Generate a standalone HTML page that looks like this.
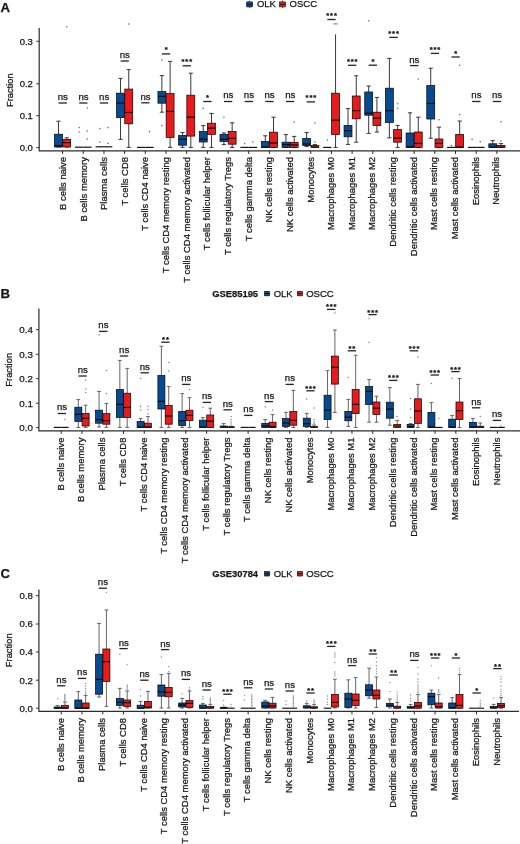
<!DOCTYPE html>
<html lang="en"><head><meta charset="utf-8"><title>Immune cell fractions: OLK vs OSCC</title>
<style>html,body{margin:0;padding:0;background:#fff}svg{display:block}text{font-family:"Liberation Sans", Arial, Helvetica, sans-serif;fill:#161616;stroke:#161616;stroke-width:0.25px}</style></head><body>
<svg width="520" height="844" viewBox="0 0 520 844">
<rect width="520" height="844" fill="#fff"/>
<g id="panelA">
<path d="M39.2 28V150.9H520" stroke="#2e2e2e" stroke-width="1.2" fill="none"/>
<line x1="36.2" y1="147.6" x2="39.2" y2="147.6" stroke="#2e2e2e" stroke-width="0.95"/>
<text x="32.9" y="150.9" text-anchor="end" font-size="9.5">0.0</text>
<line x1="36.2" y1="115.7" x2="39.2" y2="115.7" stroke="#2e2e2e" stroke-width="0.95"/>
<text x="32.9" y="119" text-anchor="end" font-size="9.5">0.1</text>
<line x1="36.2" y1="83.8" x2="39.2" y2="83.8" stroke="#2e2e2e" stroke-width="0.95"/>
<text x="32.9" y="87.1" text-anchor="end" font-size="9.5">0.2</text>
<line x1="36.2" y1="41.3" x2="39.2" y2="41.3" stroke="#2e2e2e" stroke-width="0.95"/>
<text x="32.9" y="44.6" text-anchor="end" font-size="9.5">0.3</text>
<text transform="translate(12.8 90.2) rotate(-90)" text-anchor="middle" font-size="9.35">Fraction</text>
<text x="0.6" y="12.4" font-size="13.2" font-weight="bold">A</text>
<line x1="62.6" y1="150.9" x2="62.6" y2="153.9" stroke="#262626" stroke-width="1"/>
<text transform="translate(65.9 157) rotate(-90)" text-anchor="end" font-size="9.45">B cells naive</text>
<path d="M58.48 121.2V134.2M58.48 147V147M56.38 121.2H60.58M56.38 147H60.58" stroke="#222" stroke-width="0.9" fill="none"/>
<rect x="54.55" y="134.2" width="7.9" height="12.8" fill="#064b92" stroke="#0a0a0a" stroke-width="0.75"/>
<line x1="54.55" y1="145.7" x2="62.45" y2="145.7" stroke="#0a0a0a" stroke-width="1.25"/>
<path d="M66.72 137.8V139.4M66.72 147V147M64.62 137.8H68.82M64.62 147H68.82" stroke="#222" stroke-width="0.9" fill="none"/>
<rect x="62.75" y="139.4" width="7.9" height="7.6" fill="#ea1a1a" stroke="#0a0a0a" stroke-width="0.75"/>
<line x1="62.75" y1="142.6" x2="70.65" y2="142.6" stroke="#0a0a0a" stroke-width="1.25"/>
<circle cx="66.72" cy="26.8" r="0.8" fill="#6e6e6e"/>
<line x1="58.5" y1="103" x2="66.8" y2="103" stroke="#2a2222" stroke-width="1.3"/>
<text x="62.8" y="99.9" text-anchor="middle" font-size="9.6">ns</text>
<line x1="83.28" y1="150.9" x2="83.28" y2="153.9" stroke="#262626" stroke-width="1"/>
<text transform="translate(86.53 157) rotate(-90)" text-anchor="end" font-size="9.45">B cells memory</text>
<line x1="74.93" y1="147.2" x2="83.28" y2="147.2" stroke="#161616" stroke-width="1.2"/>
<circle cx="79.16" cy="127.6" r="0.8" fill="#6e6e6e"/>
<circle cx="79.16" cy="132" r="0.8" fill="#6e6e6e"/>
<line x1="83.28" y1="147.2" x2="91.63" y2="147.2" stroke="#161616" stroke-width="1.2"/>
<circle cx="87.41" cy="108" r="0.8" fill="#6e6e6e"/>
<circle cx="87.41" cy="131" r="0.8" fill="#6e6e6e"/>
<circle cx="87.41" cy="139" r="0.8" fill="#6e6e6e"/>
<line x1="79.18" y1="103" x2="87.48" y2="103" stroke="#2a2222" stroke-width="1.3"/>
<text x="83.48" y="99.9" text-anchor="middle" font-size="9.6">ns</text>
<line x1="103.96" y1="150.9" x2="103.96" y2="153.9" stroke="#262626" stroke-width="1"/>
<text transform="translate(107.17 157) rotate(-90)" text-anchor="end" font-size="9.45">Plasma cells</text>
<line x1="95.61" y1="146.8" x2="103.96" y2="146.8" stroke="#161616" stroke-width="1.2"/>
<circle cx="99.84" cy="128.6" r="0.8" fill="#6e6e6e"/>
<circle cx="99.84" cy="142" r="0.8" fill="#6e6e6e"/>
<line x1="103.96" y1="146.8" x2="112.31" y2="146.8" stroke="#161616" stroke-width="1.2"/>
<circle cx="108.09" cy="127.6" r="0.8" fill="#6e6e6e"/>
<circle cx="108.09" cy="143.4" r="0.8" fill="#6e6e6e"/>
<line x1="99.86" y1="103" x2="108.16" y2="103" stroke="#2a2222" stroke-width="1.3"/>
<text x="104.16" y="99.9" text-anchor="middle" font-size="9.6">ns</text>
<line x1="124.64" y1="150.9" x2="124.64" y2="153.9" stroke="#262626" stroke-width="1"/>
<text transform="translate(127.8 157) rotate(-90)" text-anchor="end" font-size="9.45">T cells CD8</text>
<path d="M120.52 78.4V93.2M120.52 117.6V139.4M118.42 78.4H122.61M118.42 139.4H122.61" stroke="#222" stroke-width="0.9" fill="none"/>
<rect x="116.59" y="93.2" width="7.9" height="24.4" fill="#064b92" stroke="#0a0a0a" stroke-width="0.75"/>
<line x1="116.59" y1="103" x2="124.49" y2="103" stroke="#0a0a0a" stroke-width="1.25"/>
<path d="M128.76 69.6V89.1M128.76 123.8V147.4M126.66 69.6H130.86M126.66 147.4H130.86" stroke="#222" stroke-width="0.9" fill="none"/>
<rect x="124.79" y="89.1" width="7.9" height="34.7" fill="#ea1a1a" stroke="#0a0a0a" stroke-width="0.75"/>
<line x1="124.79" y1="112.5" x2="132.69" y2="112.5" stroke="#0a0a0a" stroke-width="1.25"/>
<circle cx="128.76" cy="24" r="0.8" fill="#6e6e6e"/>
<line x1="120.54" y1="61" x2="128.84" y2="61" stroke="#2a2222" stroke-width="1.3"/>
<text x="124.84" y="57.9" text-anchor="middle" font-size="9.6">ns</text>
<line x1="145.32" y1="150.9" x2="145.32" y2="153.9" stroke="#262626" stroke-width="1"/>
<text transform="translate(148.44 157) rotate(-90)" text-anchor="end" font-size="9.45">T cells CD4 naive</text>
<line x1="136.97" y1="147.4" x2="145.32" y2="147.4" stroke="#161616" stroke-width="1.2"/>
<line x1="145.32" y1="147.4" x2="153.67" y2="147.4" stroke="#161616" stroke-width="1.2"/>
<circle cx="149.44" cy="131.6" r="0.8" fill="#6e6e6e"/>
<line x1="141.22" y1="102.8" x2="149.52" y2="102.8" stroke="#2a2222" stroke-width="1.3"/>
<text x="145.52" y="99.7" text-anchor="middle" font-size="9.6">ns</text>
<line x1="166" y1="150.9" x2="166" y2="153.9" stroke="#262626" stroke-width="1"/>
<text transform="translate(169.08 157) rotate(-90)" text-anchor="end" font-size="9.45">T cells CD4 memory resting</text>
<path d="M161.88 75.6V91.6M161.88 103.2V112.2M159.78 75.6H163.97M159.78 112.2H163.97" stroke="#222" stroke-width="0.9" fill="none"/>
<rect x="157.95" y="91.6" width="7.9" height="11.6" fill="#064b92" stroke="#0a0a0a" stroke-width="0.75"/>
<line x1="157.95" y1="96.4" x2="165.85" y2="96.4" stroke="#0a0a0a" stroke-width="1.25"/>
<circle cx="161.88" cy="60" r="0.8" fill="#6e6e6e"/>
<circle cx="161.88" cy="125.6" r="0.8" fill="#6e6e6e"/>
<path d="M170.12 61.4V93.6M170.12 137.4V147.4M168.03 61.4H172.22M168.03 147.4H172.22" stroke="#222" stroke-width="0.9" fill="none"/>
<rect x="166.15" y="93.6" width="7.9" height="43.8" fill="#ea1a1a" stroke="#0a0a0a" stroke-width="0.75"/>
<line x1="166.15" y1="111.4" x2="174.05" y2="111.4" stroke="#0a0a0a" stroke-width="1.25"/>
<line x1="161.9" y1="53.9" x2="170.2" y2="53.9" stroke="#2a2222" stroke-width="1.3"/>
<text x="166.55" y="52.4" text-anchor="middle" font-size="7.6" font-weight="bold" letter-spacing="0.85" fill="#000" stroke="#000" stroke-width="0.3">*</text>
<line x1="186.68" y1="150.9" x2="186.68" y2="153.9" stroke="#262626" stroke-width="1"/>
<text transform="translate(189.71 157) rotate(-90)" text-anchor="end" font-size="9.45">T cells CD4 memory activated</text>
<path d="M182.56 132.6V135.4M182.56 145.2V147.4M180.46 132.6H184.66M180.46 147.4H184.66" stroke="#222" stroke-width="0.9" fill="none"/>
<rect x="178.63" y="135.4" width="7.9" height="9.8" fill="#064b92" stroke="#0a0a0a" stroke-width="0.75"/>
<line x1="178.63" y1="139.4" x2="186.53" y2="139.4" stroke="#0a0a0a" stroke-width="1.25"/>
<path d="M190.81 73.2V95.2M190.81 136.1V147.4M188.71 73.2H192.91M188.71 147.4H192.91" stroke="#222" stroke-width="0.9" fill="none"/>
<rect x="186.83" y="95.2" width="7.9" height="40.9" fill="#ea1a1a" stroke="#0a0a0a" stroke-width="0.75"/>
<line x1="186.83" y1="117.2" x2="194.73" y2="117.2" stroke="#0a0a0a" stroke-width="1.25"/>
<line x1="182.58" y1="65.8" x2="190.88" y2="65.8" stroke="#2a2222" stroke-width="1.3"/>
<text x="187.23" y="64.3" text-anchor="middle" font-size="7.6" font-weight="bold" letter-spacing="0.85" fill="#000" stroke="#000" stroke-width="0.3">***</text>
<line x1="207.36" y1="150.9" x2="207.36" y2="153.9" stroke="#262626" stroke-width="1"/>
<text transform="translate(210.34 157) rotate(-90)" text-anchor="end" font-size="9.45">T cells follicular helper</text>
<path d="M203.23 125.6V131.4M203.23 142V147.4M201.13 125.6H205.33M201.13 147.4H205.33" stroke="#222" stroke-width="0.9" fill="none"/>
<rect x="199.31" y="131.4" width="7.9" height="10.6" fill="#064b92" stroke="#0a0a0a" stroke-width="0.75"/>
<line x1="199.31" y1="139.2" x2="207.21" y2="139.2" stroke="#0a0a0a" stroke-width="1.25"/>
<circle cx="203.23" cy="108.4" r="0.8" fill="#6e6e6e"/>
<path d="M211.48 113.4V123.2M211.48 134.4V147.4M209.38 113.4H213.58M209.38 147.4H213.58" stroke="#222" stroke-width="0.9" fill="none"/>
<rect x="207.51" y="123.2" width="7.9" height="11.2" fill="#ea1a1a" stroke="#0a0a0a" stroke-width="0.75"/>
<line x1="207.51" y1="128.2" x2="215.41" y2="128.2" stroke="#0a0a0a" stroke-width="1.25"/>
<line x1="203.26" y1="101.5" x2="211.56" y2="101.5" stroke="#2a2222" stroke-width="1.3"/>
<text x="207.91" y="100" text-anchor="middle" font-size="7.6" font-weight="bold" letter-spacing="0.85" fill="#000" stroke="#000" stroke-width="0.3">*</text>
<line x1="228.04" y1="150.9" x2="228.04" y2="153.9" stroke="#262626" stroke-width="1"/>
<text transform="translate(230.98 157) rotate(-90)" text-anchor="end" font-size="9.45">T cells regulatory Tregs</text>
<path d="M223.91 133V134.4M223.91 141.4V144.6M221.81 133H226.01M221.81 144.6H226.01" stroke="#222" stroke-width="0.9" fill="none"/>
<rect x="219.99" y="134.4" width="7.9" height="7" fill="#064b92" stroke="#0a0a0a" stroke-width="0.75"/>
<line x1="219.99" y1="139.4" x2="227.89" y2="139.4" stroke="#0a0a0a" stroke-width="1.25"/>
<circle cx="223.91" cy="117.2" r="0.8" fill="#6e6e6e"/>
<path d="M232.16 122.8V131.4M232.16 144.2V147.4M230.06 122.8H234.26M230.06 147.4H234.26" stroke="#222" stroke-width="0.9" fill="none"/>
<rect x="228.19" y="131.4" width="7.9" height="12.8" fill="#ea1a1a" stroke="#0a0a0a" stroke-width="0.75"/>
<line x1="228.19" y1="138.4" x2="236.09" y2="138.4" stroke="#0a0a0a" stroke-width="1.25"/>
<line x1="223.94" y1="101.5" x2="232.24" y2="101.5" stroke="#2a2222" stroke-width="1.3"/>
<text x="228.24" y="98.4" text-anchor="middle" font-size="9.6">ns</text>
<line x1="248.72" y1="150.9" x2="248.72" y2="153.9" stroke="#262626" stroke-width="1"/>
<text transform="translate(251.62 157) rotate(-90)" text-anchor="end" font-size="9.45">T cells gamma delta</text>
<line x1="240.37" y1="147.4" x2="248.72" y2="147.4" stroke="#161616" stroke-width="1.2"/>
<circle cx="244.59" cy="143.6" r="0.8" fill="#6e6e6e"/>
<line x1="248.72" y1="147.4" x2="257.07" y2="147.4" stroke="#161616" stroke-width="1.2"/>
<circle cx="252.84" cy="142" r="0.8" fill="#6e6e6e"/>
<line x1="244.62" y1="101.5" x2="252.92" y2="101.5" stroke="#2a2222" stroke-width="1.3"/>
<text x="248.92" y="98.4" text-anchor="middle" font-size="9.6">ns</text>
<line x1="269.4" y1="150.9" x2="269.4" y2="153.9" stroke="#262626" stroke-width="1"/>
<text transform="translate(272.25 157) rotate(-90)" text-anchor="end" font-size="9.45">NK cells resting</text>
<path d="M265.28 135.8V141.4M265.28 147.4V147.4M263.18 135.8H267.38M263.18 147.4H267.38" stroke="#222" stroke-width="0.9" fill="none"/>
<rect x="261.35" y="141.4" width="7.9" height="6" fill="#064b92" stroke="#0a0a0a" stroke-width="0.75"/>
<line x1="261.35" y1="147" x2="269.25" y2="147" stroke="#0a0a0a" stroke-width="1.25"/>
<path d="M273.53 117.2V132.2M273.53 147.4V147.4M271.43 117.2H275.63M271.43 147.4H275.63" stroke="#222" stroke-width="0.9" fill="none"/>
<rect x="269.55" y="132.2" width="7.9" height="15.2" fill="#ea1a1a" stroke="#0a0a0a" stroke-width="0.75"/>
<line x1="269.55" y1="143" x2="277.45" y2="143" stroke="#0a0a0a" stroke-width="1.25"/>
<line x1="265.3" y1="101.5" x2="273.6" y2="101.5" stroke="#2a2222" stroke-width="1.3"/>
<text x="269.6" y="98.4" text-anchor="middle" font-size="9.6">ns</text>
<line x1="290.08" y1="150.9" x2="290.08" y2="153.9" stroke="#262626" stroke-width="1"/>
<text transform="translate(292.88 157) rotate(-90)" text-anchor="end" font-size="9.45">NK cells activated</text>
<path d="M285.95 134.6V142.2M285.95 147.4V147.4M283.85 134.6H288.06M283.85 147.4H288.06" stroke="#222" stroke-width="0.9" fill="none"/>
<rect x="282.03" y="142.2" width="7.9" height="5.2" fill="#064b92" stroke="#0a0a0a" stroke-width="0.75"/>
<line x1="282.03" y1="144.6" x2="289.93" y2="144.6" stroke="#0a0a0a" stroke-width="1.25"/>
<path d="M294.2 136.4V142.4M294.2 147.4V147.4M292.1 136.4H296.31M292.1 147.4H296.31" stroke="#222" stroke-width="0.9" fill="none"/>
<rect x="290.23" y="142.4" width="7.9" height="5" fill="#ea1a1a" stroke="#0a0a0a" stroke-width="0.75"/>
<line x1="290.23" y1="145" x2="298.13" y2="145" stroke="#0a0a0a" stroke-width="1.25"/>
<circle cx="294.2" cy="122" r="0.8" fill="#6e6e6e"/>
<line x1="285.98" y1="101.5" x2="294.28" y2="101.5" stroke="#2a2222" stroke-width="1.3"/>
<text x="290.28" y="98.4" text-anchor="middle" font-size="9.6">ns</text>
<line x1="310.76" y1="150.9" x2="310.76" y2="153.9" stroke="#262626" stroke-width="1"/>
<text transform="translate(313.52 157) rotate(-90)" text-anchor="end" font-size="9.45">Monocytes</text>
<path d="M306.63 132.6V138.6M306.63 145.6V146.6M304.53 132.6H308.74M304.53 146.6H308.74" stroke="#222" stroke-width="0.9" fill="none"/>
<rect x="302.71" y="138.6" width="7.9" height="7" fill="#064b92" stroke="#0a0a0a" stroke-width="0.75"/>
<line x1="302.71" y1="144" x2="310.61" y2="144" stroke="#0a0a0a" stroke-width="1.25"/>
<path d="M314.88 144.6V145.6M314.88 147.4V147.4M312.78 144.6H316.99M312.78 147.4H316.99" stroke="#222" stroke-width="0.9" fill="none"/>
<rect x="310.91" y="145.6" width="7.9" height="1.8" fill="#ea1a1a" stroke="#0a0a0a" stroke-width="0.75"/>
<line x1="310.91" y1="146.4" x2="318.81" y2="146.4" stroke="#0a0a0a" stroke-width="0.54"/>
<circle cx="314.88" cy="123" r="0.8" fill="#6e6e6e"/>
<circle cx="314.88" cy="142" r="0.8" fill="#6e6e6e"/>
<line x1="306.66" y1="101.9" x2="314.96" y2="101.9" stroke="#2a2222" stroke-width="1.3"/>
<text x="311.31" y="100.4" text-anchor="middle" font-size="7.6" font-weight="bold" letter-spacing="0.85" fill="#000" stroke="#000" stroke-width="0.3">***</text>
<line x1="331.44" y1="150.9" x2="331.44" y2="153.9" stroke="#262626" stroke-width="1"/>
<text transform="translate(334.16 157) rotate(-90)" text-anchor="end" font-size="9.45">Macrophages M0</text>
<line x1="323.09" y1="147.4" x2="331.44" y2="147.4" stroke="#161616" stroke-width="1.2"/>
<circle cx="327.31" cy="140" r="0.8" fill="#6e6e6e"/>
<path d="M335.56 34.4V93.2M335.56 134.6V147.4M335.56 34.4H335.56M333.46 147.4H337.67" stroke="#222" stroke-width="0.9" fill="none"/>
<line x1="333.46" y1="23.9" x2="337.67" y2="23.9" stroke="#6a6a6a" stroke-width="1"/>
<rect x="331.59" y="93.2" width="7.9" height="41.4" fill="#ea1a1a" stroke="#0a0a0a" stroke-width="0.75"/>
<line x1="331.59" y1="120.2" x2="339.49" y2="120.2" stroke="#0a0a0a" stroke-width="1.25"/>
<line x1="327.34" y1="19.5" x2="335.64" y2="19.5" stroke="#2a2222" stroke-width="1.3"/>
<text x="331.99" y="18" text-anchor="middle" font-size="7.6" font-weight="bold" letter-spacing="0.85" fill="#000" stroke="#000" stroke-width="0.3">***</text>
<line x1="352.12" y1="150.9" x2="352.12" y2="153.9" stroke="#262626" stroke-width="1"/>
<text transform="translate(354.79 157) rotate(-90)" text-anchor="end" font-size="9.45">Macrophages M1</text>
<path d="M348 108.6V125.4M348 136.8V144.4M345.89 108.6H350.1M345.89 144.4H350.1" stroke="#222" stroke-width="0.9" fill="none"/>
<rect x="344.07" y="125.4" width="7.9" height="11.4" fill="#064b92" stroke="#0a0a0a" stroke-width="0.75"/>
<line x1="344.07" y1="130.6" x2="351.97" y2="130.6" stroke="#0a0a0a" stroke-width="1.25"/>
<path d="M356.25 75.8V96M356.25 118.8V142.2M354.14 75.8H358.35M354.14 142.2H358.35" stroke="#222" stroke-width="0.9" fill="none"/>
<rect x="352.27" y="96" width="7.9" height="22.8" fill="#ea1a1a" stroke="#0a0a0a" stroke-width="0.75"/>
<line x1="352.27" y1="110.6" x2="360.17" y2="110.6" stroke="#0a0a0a" stroke-width="1.25"/>
<line x1="348.02" y1="65.3" x2="356.32" y2="65.3" stroke="#2a2222" stroke-width="1.3"/>
<text x="352.67" y="63.8" text-anchor="middle" font-size="7.6" font-weight="bold" letter-spacing="0.85" fill="#000" stroke="#000" stroke-width="0.3">***</text>
<line x1="372.8" y1="150.9" x2="372.8" y2="153.9" stroke="#262626" stroke-width="1"/>
<text transform="translate(375.43 157) rotate(-90)" text-anchor="end" font-size="9.45">Macrophages M2</text>
<path d="M368.68 86V92M368.68 115.2V133.4M366.57 86H370.78M366.57 133.4H370.78" stroke="#222" stroke-width="0.9" fill="none"/>
<rect x="364.75" y="92" width="7.9" height="23.2" fill="#064b92" stroke="#0a0a0a" stroke-width="0.75"/>
<line x1="364.75" y1="113.2" x2="372.65" y2="113.2" stroke="#0a0a0a" stroke-width="1.25"/>
<circle cx="368.68" cy="20.8" r="0.8" fill="#6e6e6e"/>
<path d="M376.93 97.4V112.2M376.93 125.6V132M374.82 97.4H379.03M374.82 132H379.03" stroke="#222" stroke-width="0.9" fill="none"/>
<rect x="372.95" y="112.2" width="7.9" height="13.4" fill="#ea1a1a" stroke="#0a0a0a" stroke-width="0.75"/>
<line x1="372.95" y1="118.2" x2="380.85" y2="118.2" stroke="#0a0a0a" stroke-width="1.25"/>
<line x1="368.7" y1="65.2" x2="377" y2="65.2" stroke="#2a2222" stroke-width="1.3"/>
<text x="373.35" y="63.7" text-anchor="middle" font-size="7.6" font-weight="bold" letter-spacing="0.85" fill="#000" stroke="#000" stroke-width="0.3">*</text>
<line x1="393.48" y1="150.9" x2="393.48" y2="153.9" stroke="#262626" stroke-width="1"/>
<text transform="translate(396.06 157) rotate(-90)" text-anchor="end" font-size="9.45">Dendritic cells resting</text>
<path d="M389.36 58.4V88.2M389.36 122.6V137.8M387.25 58.4H391.46M387.25 137.8H391.46" stroke="#222" stroke-width="0.9" fill="none"/>
<rect x="385.43" y="88.2" width="7.9" height="34.4" fill="#064b92" stroke="#0a0a0a" stroke-width="0.75"/>
<line x1="385.43" y1="110.6" x2="393.33" y2="110.6" stroke="#0a0a0a" stroke-width="1.25"/>
<path d="M397.61 125.4V129.6M397.61 142.2V147.4M395.5 125.4H399.71M395.5 147.4H399.71" stroke="#222" stroke-width="0.9" fill="none"/>
<rect x="393.63" y="129.6" width="7.9" height="12.6" fill="#ea1a1a" stroke="#0a0a0a" stroke-width="0.75"/>
<line x1="393.63" y1="138.2" x2="401.53" y2="138.2" stroke="#0a0a0a" stroke-width="1.25"/>
<circle cx="397.61" cy="103.8" r="0.8" fill="#6e6e6e"/>
<circle cx="397.61" cy="108.2" r="0.8" fill="#6e6e6e"/>
<line x1="389.38" y1="37.4" x2="397.68" y2="37.4" stroke="#2a2222" stroke-width="1.3"/>
<text x="394.03" y="35.9" text-anchor="middle" font-size="7.6" font-weight="bold" letter-spacing="0.85" fill="#000" stroke="#000" stroke-width="0.3">***</text>
<line x1="414.16" y1="150.9" x2="414.16" y2="153.9" stroke="#262626" stroke-width="1"/>
<text transform="translate(416.7 157) rotate(-90)" text-anchor="end" font-size="9.45">Dendritic cells activated</text>
<path d="M410.04 112.8V133M410.04 147.4V147.4M407.94 112.8H412.14M407.94 147.4H412.14" stroke="#222" stroke-width="0.9" fill="none"/>
<rect x="406.11" y="133" width="7.9" height="14.4" fill="#064b92" stroke="#0a0a0a" stroke-width="0.75"/>
<line x1="406.11" y1="146.6" x2="414.01" y2="146.6" stroke="#0a0a0a" stroke-width="1.25"/>
<path d="M418.29 117.2V132M418.29 147.4V147.4M416.19 117.2H420.39M416.19 147.4H420.39" stroke="#222" stroke-width="0.9" fill="none"/>
<rect x="414.31" y="132" width="7.9" height="15.4" fill="#ea1a1a" stroke="#0a0a0a" stroke-width="0.75"/>
<line x1="414.31" y1="143.4" x2="422.21" y2="143.4" stroke="#0a0a0a" stroke-width="1.25"/>
<circle cx="418.29" cy="79" r="0.8" fill="#6e6e6e"/>
<line x1="410.06" y1="65.6" x2="418.36" y2="65.6" stroke="#2a2222" stroke-width="1.3"/>
<text x="414.36" y="62.5" text-anchor="middle" font-size="9.6">ns</text>
<line x1="434.84" y1="150.9" x2="434.84" y2="153.9" stroke="#262626" stroke-width="1"/>
<text transform="translate(437.33 157) rotate(-90)" text-anchor="end" font-size="9.45">Mast cells resting</text>
<path d="M430.72 68.2V85.6M430.72 119V138.2M428.62 68.2H432.82M428.62 138.2H432.82" stroke="#222" stroke-width="0.9" fill="none"/>
<rect x="426.79" y="85.6" width="7.9" height="33.4" fill="#064b92" stroke="#0a0a0a" stroke-width="0.75"/>
<line x1="426.79" y1="103.4" x2="434.69" y2="103.4" stroke="#0a0a0a" stroke-width="1.25"/>
<path d="M438.97 127.2V139M438.97 147.4V147.4M436.87 127.2H441.07M436.87 147.4H441.07" stroke="#222" stroke-width="0.9" fill="none"/>
<rect x="434.99" y="139" width="7.9" height="8.4" fill="#ea1a1a" stroke="#0a0a0a" stroke-width="0.75"/>
<line x1="434.99" y1="143.4" x2="442.89" y2="143.4" stroke="#0a0a0a" stroke-width="1.25"/>
<circle cx="438.97" cy="119.8" r="0.8" fill="#6e6e6e"/>
<line x1="430.74" y1="53.4" x2="439.04" y2="53.4" stroke="#2a2222" stroke-width="1.3"/>
<text x="435.39" y="51.9" text-anchor="middle" font-size="7.6" font-weight="bold" letter-spacing="0.85" fill="#000" stroke="#000" stroke-width="0.3">***</text>
<line x1="455.52" y1="150.9" x2="455.52" y2="153.9" stroke="#262626" stroke-width="1"/>
<text transform="translate(457.97 157) rotate(-90)" text-anchor="end" font-size="9.45">Mast cells activated</text>
<line x1="447.17" y1="147.4" x2="455.52" y2="147.4" stroke="#161616" stroke-width="1.2"/>
<circle cx="451.4" cy="145.6" r="0.8" fill="#6e6e6e"/>
<path d="M459.65 121V134.4M459.65 147.4V147.4M457.55 121H461.75M457.55 147.4H461.75" stroke="#222" stroke-width="0.9" fill="none"/>
<rect x="455.67" y="134.4" width="7.9" height="13" fill="#ea1a1a" stroke="#0a0a0a" stroke-width="0.75"/>
<line x1="455.67" y1="147.1" x2="463.57" y2="147.1" stroke="#0a0a0a" stroke-width="1.25"/>
<circle cx="459.65" cy="65.2" r="0.8" fill="#6e6e6e"/>
<circle cx="459.65" cy="114.6" r="0.8" fill="#6e6e6e"/>
<line x1="451.42" y1="57" x2="459.72" y2="57" stroke="#2a2222" stroke-width="1.3"/>
<text x="456.07" y="55.5" text-anchor="middle" font-size="7.6" font-weight="bold" letter-spacing="0.85" fill="#000" stroke="#000" stroke-width="0.3">*</text>
<line x1="476.2" y1="150.9" x2="476.2" y2="153.9" stroke="#262626" stroke-width="1"/>
<text transform="translate(478.6 157) rotate(-90)" text-anchor="end" font-size="9.45">Eosinophils</text>
<line x1="467.85" y1="147.4" x2="476.2" y2="147.4" stroke="#161616" stroke-width="1.2"/>
<circle cx="472.08" cy="139.4" r="0.8" fill="#6e6e6e"/>
<line x1="476.2" y1="147.4" x2="484.55" y2="147.4" stroke="#161616" stroke-width="1.2"/>
<circle cx="480.33" cy="141.8" r="0.8" fill="#6e6e6e"/>
<line x1="472.1" y1="101.5" x2="480.4" y2="101.5" stroke="#2a2222" stroke-width="1.3"/>
<text x="476.4" y="98.4" text-anchor="middle" font-size="9.6">ns</text>
<line x1="496.88" y1="150.9" x2="496.88" y2="153.9" stroke="#262626" stroke-width="1"/>
<text transform="translate(499.24 157) rotate(-90)" text-anchor="end" font-size="9.45">Neutrophils</text>
<path d="M492.75 140.6V143.8M492.75 147.4V147.4M490.65 140.6H494.86M490.65 147.4H494.86" stroke="#222" stroke-width="0.9" fill="none"/>
<rect x="488.83" y="143.8" width="7.9" height="3.6" fill="#064b92" stroke="#0a0a0a" stroke-width="0.75"/>
<line x1="488.83" y1="147" x2="496.73" y2="147" stroke="#0a0a0a" stroke-width="1.08"/>
<path d="M501 143.6V145.4M501 147.4V147.4M498.9 143.6H503.11M498.9 147.4H503.11" stroke="#222" stroke-width="0.9" fill="none"/>
<rect x="497.03" y="145.4" width="7.9" height="2" fill="#ea1a1a" stroke="#0a0a0a" stroke-width="0.75"/>
<line x1="497.03" y1="146.8" x2="504.93" y2="146.8" stroke="#0a0a0a" stroke-width="0.6"/>
<circle cx="501" cy="121.8" r="0.8" fill="#6e6e6e"/>
<circle cx="501" cy="141" r="0.8" fill="#6e6e6e"/>
<line x1="492.78" y1="101.5" x2="501.08" y2="101.5" stroke="#2a2222" stroke-width="1.3"/>
<text x="497.08" y="98.4" text-anchor="middle" font-size="9.6">ns</text>
<line x1="249.6" y1="0.6" x2="249.6" y2="8.2" stroke="#222" stroke-width="0.7"/>
<rect x="246.7" y="1.9" width="5.8" height="5" fill="#064b92" stroke="#0a0a0a" stroke-width="0.6"/>
<line x1="246.7" y1="4.4" x2="252.5" y2="4.4" stroke="#0a0a0a" stroke-width="0.9"/>
<text x="256.9" y="7.35" font-size="9.5">OLK</text>
<line x1="282.5" y1="0.6" x2="282.5" y2="8.2" stroke="#222" stroke-width="0.7"/>
<rect x="279.6" y="1.9" width="5.8" height="5" fill="#ea1a1a" stroke="#0a0a0a" stroke-width="0.6"/>
<line x1="279.6" y1="4.4" x2="285.4" y2="4.4" stroke="#0a0a0a" stroke-width="0.9"/>
<text x="289.6" y="7.35" font-size="9.5">OSCC</text>
</g>
<g id="panelB">
<path d="M38.9 308.6V430.8H520" stroke="#2e2e2e" stroke-width="1.2" fill="none"/>
<line x1="35.9" y1="427.6" x2="38.9" y2="427.6" stroke="#2e2e2e" stroke-width="0.95"/>
<text x="32.9" y="430.9" text-anchor="end" font-size="9.8">0.0</text>
<line x1="35.9" y1="403.2" x2="38.9" y2="403.2" stroke="#2e2e2e" stroke-width="0.95"/>
<text x="32.9" y="406.5" text-anchor="end" font-size="9.8">0.1</text>
<line x1="35.9" y1="378.7" x2="38.9" y2="378.7" stroke="#2e2e2e" stroke-width="0.95"/>
<text x="32.9" y="382" text-anchor="end" font-size="9.8">0.2</text>
<line x1="35.9" y1="354.3" x2="38.9" y2="354.3" stroke="#2e2e2e" stroke-width="0.95"/>
<text x="32.9" y="357.6" text-anchor="end" font-size="9.8">0.3</text>
<line x1="35.9" y1="329.7" x2="38.9" y2="329.7" stroke="#2e2e2e" stroke-width="0.95"/>
<text x="32.9" y="333" text-anchor="end" font-size="9.8">0.4</text>
<text transform="translate(12.3 369.8) rotate(-90)" text-anchor="middle" font-size="9.35">Fraction</text>
<text x="0.6" y="298" font-size="13.2" font-weight="bold">B</text>
<line x1="61.2" y1="430.8" x2="61.2" y2="433.8" stroke="#262626" stroke-width="1"/>
<text transform="translate(63.5 437.6) rotate(-90)" text-anchor="end" font-size="9.45">B cells naive</text>
<line x1="53.75" y1="427.4" x2="61.2" y2="427.4" stroke="#161616" stroke-width="1.2"/>
<line x1="61.2" y1="427.4" x2="68.65" y2="427.4" stroke="#161616" stroke-width="1.2"/>
<circle cx="64.88" cy="419.4" r="0.75" fill="#858585"/>
<line x1="57.7" y1="413.5" x2="66" y2="413.5" stroke="#2a2222" stroke-width="1.3"/>
<text x="62" y="410.4" text-anchor="middle" font-size="9.6">ns</text>
<line x1="81.97" y1="430.8" x2="81.97" y2="433.8" stroke="#262626" stroke-width="1"/>
<text transform="translate(84.27 437.6) rotate(-90)" text-anchor="end" font-size="9.45">B cells memory</text>
<path d="M78.3 399.6V407.2M78.3 421.4V427.4M76.39 399.6H80.2M76.39 427.4H80.2" stroke="#555" stroke-width="0.9" fill="none"/>
<rect x="74.82" y="407.2" width="7" height="14.2" fill="#064b92" stroke="#0a0a0a" stroke-width="0.75"/>
<line x1="74.82" y1="414.4" x2="81.82" y2="414.4" stroke="#0a0a0a" stroke-width="1.25"/>
<path d="M85.64 405.2V413.4M85.64 426V427.4M83.74 405.2H87.55M83.74 427.4H87.55" stroke="#555" stroke-width="0.9" fill="none"/>
<rect x="82.12" y="413.4" width="7" height="12.6" fill="#ea1a1a" stroke="#0a0a0a" stroke-width="0.75"/>
<line x1="82.12" y1="418.4" x2="89.12" y2="418.4" stroke="#0a0a0a" stroke-width="1.25"/>
<circle cx="85.64" cy="380" r="0.75" fill="#858585"/>
<circle cx="85.64" cy="389" r="0.75" fill="#858585"/>
<circle cx="85.64" cy="392.4" r="0.75" fill="#858585"/>
<line x1="78.42" y1="376" x2="86.72" y2="376" stroke="#2a2222" stroke-width="1.3"/>
<text x="82.72" y="372.9" text-anchor="middle" font-size="9.6">ns</text>
<line x1="102.74" y1="430.8" x2="102.74" y2="433.8" stroke="#262626" stroke-width="1"/>
<text transform="translate(105.04 437.6) rotate(-90)" text-anchor="end" font-size="9.45">Plasma cells</text>
<path d="M99.07 391.4V410.2M99.07 423.2V427M97.17 391.4H100.97M97.17 427H100.97" stroke="#555" stroke-width="0.9" fill="none"/>
<rect x="95.59" y="410.2" width="7" height="13" fill="#064b92" stroke="#0a0a0a" stroke-width="0.75"/>
<line x1="95.59" y1="419.6" x2="102.59" y2="419.6" stroke="#0a0a0a" stroke-width="1.25"/>
<circle cx="99.07" cy="334.8" r="0.75" fill="#858585"/>
<path d="M106.42 403.4V413.6M106.42 424.2V427.4M104.52 403.4H108.32M104.52 427.4H108.32" stroke="#555" stroke-width="0.9" fill="none"/>
<rect x="102.89" y="413.6" width="7" height="10.6" fill="#ea1a1a" stroke="#0a0a0a" stroke-width="0.75"/>
<line x1="102.89" y1="420.6" x2="109.89" y2="420.6" stroke="#0a0a0a" stroke-width="1.25"/>
<circle cx="106.42" cy="370.6" r="0.75" fill="#858585"/>
<circle cx="106.42" cy="393.4" r="0.75" fill="#858585"/>
<line x1="99.13" y1="331.4" x2="107.43" y2="331.4" stroke="#2a2222" stroke-width="1.3"/>
<text x="103.43" y="328.3" text-anchor="middle" font-size="9.6">ns</text>
<line x1="123.51" y1="430.8" x2="123.51" y2="433.8" stroke="#262626" stroke-width="1"/>
<text transform="translate(125.81 437.6) rotate(-90)" text-anchor="end" font-size="9.45">T cells CD8</text>
<path d="M119.84 360.4V389.6M119.84 417.4V427.4M117.94 360.4H121.74M117.94 427.4H121.74" stroke="#555" stroke-width="0.9" fill="none"/>
<rect x="116.36" y="389.6" width="7" height="27.8" fill="#064b92" stroke="#0a0a0a" stroke-width="0.75"/>
<line x1="116.36" y1="404.4" x2="123.36" y2="404.4" stroke="#0a0a0a" stroke-width="1.25"/>
<path d="M127.19 368.4V393.2M127.19 417.4V427.4M125.28 368.4H129.09M125.28 427.4H129.09" stroke="#555" stroke-width="0.9" fill="none"/>
<rect x="123.66" y="393.2" width="7" height="24.2" fill="#ea1a1a" stroke="#0a0a0a" stroke-width="0.75"/>
<line x1="123.66" y1="407.4" x2="130.66" y2="407.4" stroke="#0a0a0a" stroke-width="1.25"/>
<line x1="119.85" y1="356" x2="128.15" y2="356" stroke="#2a2222" stroke-width="1.3"/>
<text x="124.15" y="352.9" text-anchor="middle" font-size="9.6">ns</text>
<line x1="144.28" y1="430.8" x2="144.28" y2="433.8" stroke="#262626" stroke-width="1"/>
<text transform="translate(146.58 437.6) rotate(-90)" text-anchor="end" font-size="9.45">T cells CD4 naive</text>
<path d="M140.6 418.6V421.4M140.6 427.4V427.4M138.7 418.6H142.5M138.7 427.4H142.5" stroke="#555" stroke-width="0.9" fill="none"/>
<rect x="137.13" y="421.4" width="7" height="6" fill="#064b92" stroke="#0a0a0a" stroke-width="0.75"/>
<line x1="137.13" y1="427" x2="144.13" y2="427" stroke="#0a0a0a" stroke-width="1.25"/>
<circle cx="140.6" cy="378.4" r="0.75" fill="#858585"/>
<circle cx="140.6" cy="406.2" r="0.75" fill="#858585"/>
<circle cx="140.6" cy="410" r="0.75" fill="#858585"/>
<path d="M147.96 416.6V423.2M147.96 427.4V427.4M146.06 416.6H149.86M146.06 427.4H149.86" stroke="#555" stroke-width="0.9" fill="none"/>
<rect x="144.43" y="423.2" width="7" height="4.2" fill="#ea1a1a" stroke="#0a0a0a" stroke-width="0.75"/>
<line x1="144.43" y1="427" x2="151.43" y2="427" stroke="#0a0a0a" stroke-width="1.25"/>
<circle cx="147.96" cy="406.2" r="0.75" fill="#858585"/>
<circle cx="147.96" cy="409.6" r="0.75" fill="#858585"/>
<circle cx="147.96" cy="414" r="0.75" fill="#858585"/>
<line x1="140.56" y1="372.8" x2="148.86" y2="372.8" stroke="#2a2222" stroke-width="1.3"/>
<text x="144.86" y="369.7" text-anchor="middle" font-size="9.6">ns</text>
<line x1="165.05" y1="430.8" x2="165.05" y2="433.8" stroke="#262626" stroke-width="1"/>
<text transform="translate(167.35 437.6) rotate(-90)" text-anchor="end" font-size="9.45">T cells CD4 memory resting</text>
<path d="M161.38 346.2V375.6M161.38 409V427.4M159.47 346.2H163.28M159.47 427.4H163.28" stroke="#555" stroke-width="0.9" fill="none"/>
<rect x="157.9" y="375.6" width="7" height="33.4" fill="#064b92" stroke="#0a0a0a" stroke-width="0.75"/>
<line x1="157.9" y1="401.4" x2="164.9" y2="401.4" stroke="#0a0a0a" stroke-width="1.25"/>
<path d="M168.73 386.6V405.4M168.73 424.2V427.4M166.83 386.6H170.63M166.83 427.4H170.63" stroke="#555" stroke-width="0.9" fill="none"/>
<rect x="165.2" y="405.4" width="7" height="18.8" fill="#ea1a1a" stroke="#0a0a0a" stroke-width="0.75"/>
<line x1="165.2" y1="416" x2="172.2" y2="416" stroke="#0a0a0a" stroke-width="1.25"/>
<circle cx="168.73" cy="362.4" r="0.75" fill="#858585"/>
<circle cx="168.73" cy="371" r="0.75" fill="#858585"/>
<line x1="161.28" y1="342.2" x2="169.57" y2="342.2" stroke="#2a2222" stroke-width="1.3"/>
<text x="165.93" y="342.1" text-anchor="middle" font-size="7.6" font-weight="bold" letter-spacing="0.85" fill="#000" stroke="#000" stroke-width="0.3">**</text>
<line x1="185.82" y1="430.8" x2="185.82" y2="433.8" stroke="#262626" stroke-width="1"/>
<text transform="translate(188.12 437.6) rotate(-90)" text-anchor="end" font-size="9.45">T cells CD4 memory activated</text>
<path d="M182.14 393.6V411.4M182.14 425.6V427.4M180.24 393.6H184.04M180.24 427.4H184.04" stroke="#555" stroke-width="0.9" fill="none"/>
<rect x="178.67" y="411.4" width="7" height="14.2" fill="#064b92" stroke="#0a0a0a" stroke-width="0.75"/>
<line x1="178.67" y1="420.6" x2="185.67" y2="420.6" stroke="#0a0a0a" stroke-width="1.25"/>
<path d="M189.5 397.6V410.2M189.5 420.6V427.4M187.59 397.6H191.4M187.59 427.4H191.4" stroke="#555" stroke-width="0.9" fill="none"/>
<rect x="185.97" y="410.2" width="7" height="10.4" fill="#ea1a1a" stroke="#0a0a0a" stroke-width="0.75"/>
<line x1="185.97" y1="415.4" x2="192.97" y2="415.4" stroke="#0a0a0a" stroke-width="1.25"/>
<circle cx="189.5" cy="389.4" r="0.75" fill="#858585"/>
<line x1="181.99" y1="384.4" x2="190.29" y2="384.4" stroke="#2a2222" stroke-width="1.3"/>
<text x="186.29" y="381.3" text-anchor="middle" font-size="9.6">ns</text>
<line x1="206.59" y1="430.8" x2="206.59" y2="433.8" stroke="#262626" stroke-width="1"/>
<text transform="translate(208.89 437.6) rotate(-90)" text-anchor="end" font-size="9.45">T cells follicular helper</text>
<path d="M202.91 417.6V420.2M202.91 427.4V427.4M201.01 417.6H204.81M201.01 427.4H204.81" stroke="#555" stroke-width="0.9" fill="none"/>
<rect x="199.44" y="420.2" width="7" height="7.2" fill="#064b92" stroke="#0a0a0a" stroke-width="0.75"/>
<line x1="199.44" y1="427" x2="206.44" y2="427" stroke="#0a0a0a" stroke-width="1.25"/>
<circle cx="202.91" cy="407.4" r="0.75" fill="#858585"/>
<path d="M210.26 408.2V415M210.26 427.4V427.4M208.36 408.2H212.16M208.36 427.4H212.16" stroke="#555" stroke-width="0.9" fill="none"/>
<rect x="206.74" y="415" width="7" height="12.4" fill="#ea1a1a" stroke="#0a0a0a" stroke-width="0.75"/>
<line x1="206.74" y1="421.2" x2="213.74" y2="421.2" stroke="#0a0a0a" stroke-width="1.25"/>
<line x1="202.7" y1="402.4" x2="211" y2="402.4" stroke="#2a2222" stroke-width="1.3"/>
<text x="207" y="399.3" text-anchor="middle" font-size="9.6">ns</text>
<line x1="227.36" y1="430.8" x2="227.36" y2="433.8" stroke="#262626" stroke-width="1"/>
<text transform="translate(229.66 437.6) rotate(-90)" text-anchor="end" font-size="9.45">T cells regulatory Tregs</text>
<path d="M223.69 423.6V426M223.69 427.4V427.4M221.78 423.6H225.59M221.78 427.4H225.59" stroke="#555" stroke-width="0.9" fill="none"/>
<rect x="220.21" y="426" width="7" height="1.4" fill="#064b92" stroke="#0a0a0a" stroke-width="0.75"/>
<line x1="220.21" y1="427.1" x2="227.21" y2="427.1" stroke="#0a0a0a" stroke-width="0.5"/>
<path d="M231.04 426.2V426.8M231.04 427.4V427.4M229.14 426.2H232.94M229.14 427.4H232.94" stroke="#555" stroke-width="0.9" fill="none"/>
<rect x="227.51" y="426.8" width="7" height="0.6" fill="#ea1a1a" stroke="#0a0a0a" stroke-width="0.75"/>
<line x1="227.51" y1="427.2" x2="234.51" y2="427.2" stroke="#0a0a0a" stroke-width="0.5"/>
<circle cx="231.04" cy="416.6" r="0.75" fill="#858585"/>
<circle cx="231.04" cy="419.6" r="0.75" fill="#858585"/>
<circle cx="231.04" cy="422" r="0.75" fill="#858585"/>
<circle cx="231.04" cy="424" r="0.75" fill="#858585"/>
<line x1="223.42" y1="409.8" x2="231.72" y2="409.8" stroke="#2a2222" stroke-width="1.3"/>
<text x="227.72" y="406.7" text-anchor="middle" font-size="9.6">ns</text>
<line x1="248.13" y1="430.8" x2="248.13" y2="433.8" stroke="#262626" stroke-width="1"/>
<text transform="translate(250.43 437.6) rotate(-90)" text-anchor="end" font-size="9.45">T cells gamma delta</text>
<line x1="240.68" y1="427.4" x2="248.13" y2="427.4" stroke="#161616" stroke-width="1.2"/>
<line x1="248.13" y1="427.4" x2="255.58" y2="427.4" stroke="#161616" stroke-width="1.2"/>
<line x1="244.13" y1="415.4" x2="252.43" y2="415.4" stroke="#2a2222" stroke-width="1.3"/>
<text x="248.43" y="412.3" text-anchor="middle" font-size="9.6">ns</text>
<line x1="268.9" y1="430.8" x2="268.9" y2="433.8" stroke="#262626" stroke-width="1"/>
<text transform="translate(271.2 437.6) rotate(-90)" text-anchor="end" font-size="9.45">NK cells resting</text>
<path d="M265.22 419.6V423.4M265.22 427.4V427.4M263.32 419.6H267.12M263.32 427.4H267.12" stroke="#555" stroke-width="0.9" fill="none"/>
<rect x="261.75" y="423.4" width="7" height="4" fill="#064b92" stroke="#0a0a0a" stroke-width="0.75"/>
<line x1="261.75" y1="426" x2="268.75" y2="426" stroke="#0a0a0a" stroke-width="1.25"/>
<circle cx="265.22" cy="407" r="0.75" fill="#858585"/>
<path d="M272.57 414.6V422.2M272.57 427.4V427.4M270.68 414.6H274.47M270.68 427.4H274.47" stroke="#555" stroke-width="0.9" fill="none"/>
<rect x="269.05" y="422.2" width="7" height="5.2" fill="#ea1a1a" stroke="#0a0a0a" stroke-width="0.75"/>
<line x1="269.05" y1="426.6" x2="276.05" y2="426.6" stroke="#0a0a0a" stroke-width="1.25"/>
<circle cx="272.57" cy="410" r="0.75" fill="#858585"/>
<line x1="264.85" y1="401.6" x2="273.15" y2="401.6" stroke="#2a2222" stroke-width="1.3"/>
<text x="269.15" y="398.5" text-anchor="middle" font-size="9.6">ns</text>
<line x1="289.67" y1="430.8" x2="289.67" y2="433.8" stroke="#262626" stroke-width="1"/>
<text transform="translate(291.97 437.6) rotate(-90)" text-anchor="end" font-size="9.45">NK cells activated</text>
<path d="M286 412.4V418.6M286 426.6V427.4M284.1 412.4H287.89M284.1 427.4H287.89" stroke="#555" stroke-width="0.9" fill="none"/>
<rect x="282.52" y="418.6" width="7" height="8" fill="#064b92" stroke="#0a0a0a" stroke-width="0.75"/>
<line x1="282.52" y1="423" x2="289.52" y2="423" stroke="#0a0a0a" stroke-width="1.25"/>
<path d="M293.35 390.4V411.4M293.35 425.2V427.4M291.45 390.4H295.25M291.45 427.4H295.25" stroke="#555" stroke-width="0.9" fill="none"/>
<rect x="289.82" y="411.4" width="7" height="13.8" fill="#ea1a1a" stroke="#0a0a0a" stroke-width="0.75"/>
<line x1="289.82" y1="420.4" x2="296.82" y2="420.4" stroke="#0a0a0a" stroke-width="1.25"/>
<line x1="285.56" y1="384.4" x2="293.87" y2="384.4" stroke="#2a2222" stroke-width="1.3"/>
<text x="289.87" y="381.3" text-anchor="middle" font-size="9.6">ns</text>
<line x1="310.44" y1="430.8" x2="310.44" y2="433.8" stroke="#262626" stroke-width="1"/>
<text transform="translate(312.74 437.6) rotate(-90)" text-anchor="end" font-size="9.45">Monocytes</text>
<path d="M306.76 413.4V418.2M306.76 426.6V427.4M304.87 413.4H308.66M304.87 427.4H308.66" stroke="#555" stroke-width="0.9" fill="none"/>
<rect x="303.29" y="418.2" width="7" height="8.4" fill="#064b92" stroke="#0a0a0a" stroke-width="0.75"/>
<line x1="303.29" y1="423.6" x2="310.29" y2="423.6" stroke="#0a0a0a" stroke-width="1.25"/>
<circle cx="306.76" cy="399" r="0.75" fill="#858585"/>
<path d="M314.12 425V426.6M314.12 427.4V427.4M312.22 425H316.01M312.22 427.4H316.01" stroke="#555" stroke-width="0.9" fill="none"/>
<rect x="310.59" y="426.6" width="7" height="0.8" fill="#ea1a1a" stroke="#0a0a0a" stroke-width="0.75"/>
<line x1="310.59" y1="427.1" x2="317.59" y2="427.1" stroke="#0a0a0a" stroke-width="0.5"/>
<circle cx="314.12" cy="408" r="0.75" fill="#858585"/>
<circle cx="314.12" cy="419.4" r="0.75" fill="#858585"/>
<circle cx="314.12" cy="422" r="0.75" fill="#858585"/>
<circle cx="314.12" cy="423.6" r="0.75" fill="#858585"/>
<line x1="306.28" y1="390.8" x2="314.58" y2="390.8" stroke="#2a2222" stroke-width="1.3"/>
<text x="310.93" y="390.7" text-anchor="middle" font-size="7.6" font-weight="bold" letter-spacing="0.85" fill="#000" stroke="#000" stroke-width="0.3">***</text>
<line x1="331.21" y1="430.8" x2="331.21" y2="433.8" stroke="#262626" stroke-width="1"/>
<text transform="translate(333.51 437.6) rotate(-90)" text-anchor="end" font-size="9.45">Macrophages M0</text>
<path d="M327.53 370.6V395.2M327.53 419.6V427.4M325.63 370.6H329.43M325.63 427.4H329.43" stroke="#555" stroke-width="0.9" fill="none"/>
<rect x="324.06" y="395.2" width="7" height="24.4" fill="#064b92" stroke="#0a0a0a" stroke-width="0.75"/>
<line x1="324.06" y1="410" x2="331.06" y2="410" stroke="#0a0a0a" stroke-width="1.25"/>
<path d="M334.88 330V356.1M334.88 384.1V412.4M332.99 330H336.78M332.99 412.4H336.78" stroke="#555" stroke-width="0.9" fill="none"/>
<rect x="331.36" y="356.1" width="7" height="28" fill="#ea1a1a" stroke="#0a0a0a" stroke-width="0.75"/>
<line x1="331.36" y1="367.2" x2="338.36" y2="367.2" stroke="#0a0a0a" stroke-width="1.25"/>
<circle cx="334.88" cy="313" r="0.75" fill="#858585"/>
<line x1="326.99" y1="309.4" x2="335.29" y2="309.4" stroke="#2a2222" stroke-width="1.3"/>
<text x="331.64" y="309.3" text-anchor="middle" font-size="7.6" font-weight="bold" letter-spacing="0.85" fill="#000" stroke="#000" stroke-width="0.3">***</text>
<line x1="351.98" y1="430.8" x2="351.98" y2="433.8" stroke="#262626" stroke-width="1"/>
<text transform="translate(354.28 437.6) rotate(-90)" text-anchor="end" font-size="9.45">Macrophages M1</text>
<path d="M348.3 399.4V411.4M348.3 420.8V426.4M346.4 399.4H350.2M346.4 426.4H350.2" stroke="#555" stroke-width="0.9" fill="none"/>
<rect x="344.83" y="411.4" width="7" height="9.4" fill="#064b92" stroke="#0a0a0a" stroke-width="0.75"/>
<line x1="344.83" y1="417.2" x2="351.83" y2="417.2" stroke="#0a0a0a" stroke-width="1.25"/>
<circle cx="348.3" cy="377.6" r="0.75" fill="#858585"/>
<path d="M355.65 355.2V389.4M355.65 413.6V427.4M353.75 355.2H357.55M353.75 427.4H357.55" stroke="#555" stroke-width="0.9" fill="none"/>
<rect x="352.13" y="389.4" width="7" height="24.2" fill="#ea1a1a" stroke="#0a0a0a" stroke-width="0.75"/>
<line x1="352.13" y1="404.4" x2="359.13" y2="404.4" stroke="#0a0a0a" stroke-width="1.25"/>
<line x1="347.71" y1="350.8" x2="356.01" y2="350.8" stroke="#2a2222" stroke-width="1.3"/>
<text x="352.36" y="350.7" text-anchor="middle" font-size="7.6" font-weight="bold" letter-spacing="0.85" fill="#000" stroke="#000" stroke-width="0.3">**</text>
<line x1="372.75" y1="430.8" x2="372.75" y2="433.8" stroke="#262626" stroke-width="1"/>
<text transform="translate(375.05 437.6) rotate(-90)" text-anchor="end" font-size="9.45">Macrophages M2</text>
<path d="M369.07 379.6V386.4M369.07 404.6V422.2M367.18 379.6H370.97M367.18 422.2H370.97" stroke="#555" stroke-width="0.9" fill="none"/>
<rect x="365.6" y="386.4" width="7" height="18.2" fill="#064b92" stroke="#0a0a0a" stroke-width="0.75"/>
<line x1="365.6" y1="391.4" x2="372.6" y2="391.4" stroke="#0a0a0a" stroke-width="1.25"/>
<circle cx="369.07" cy="318.4" r="0.75" fill="#858585"/>
<circle cx="369.07" cy="342.4" r="0.75" fill="#858585"/>
<path d="M376.43 396.2V402M376.43 414.4V422.2M374.53 396.2H378.32M374.53 422.2H378.32" stroke="#555" stroke-width="0.9" fill="none"/>
<rect x="372.9" y="402" width="7" height="12.4" fill="#ea1a1a" stroke="#0a0a0a" stroke-width="0.75"/>
<line x1="372.9" y1="408.2" x2="379.9" y2="408.2" stroke="#0a0a0a" stroke-width="1.25"/>
<line x1="368.42" y1="314.6" x2="376.72" y2="314.6" stroke="#2a2222" stroke-width="1.3"/>
<text x="373.07" y="314.5" text-anchor="middle" font-size="7.6" font-weight="bold" letter-spacing="0.85" fill="#000" stroke="#000" stroke-width="0.3">***</text>
<line x1="393.52" y1="430.8" x2="393.52" y2="433.8" stroke="#262626" stroke-width="1"/>
<text transform="translate(395.82 437.6) rotate(-90)" text-anchor="end" font-size="9.45">Dendritic cells resting</text>
<path d="M389.84 387.6V402.2M389.84 418.2V425.2M387.94 387.6H391.74M387.94 425.2H391.74" stroke="#555" stroke-width="0.9" fill="none"/>
<rect x="386.37" y="402.2" width="7" height="16" fill="#064b92" stroke="#0a0a0a" stroke-width="0.75"/>
<line x1="386.37" y1="409.2" x2="393.37" y2="409.2" stroke="#0a0a0a" stroke-width="1.25"/>
<path d="M397.19 420.4V424.6M397.19 427.4V427.4M395.3 420.4H399.09M395.3 427.4H399.09" stroke="#555" stroke-width="0.9" fill="none"/>
<rect x="393.67" y="424.6" width="7" height="2.8" fill="#ea1a1a" stroke="#0a0a0a" stroke-width="0.75"/>
<line x1="393.67" y1="426" x2="400.67" y2="426" stroke="#0a0a0a" stroke-width="0.84"/>
<circle cx="397.19" cy="416.6" r="0.75" fill="#858585"/>
<line x1="389.14" y1="380.4" x2="397.44" y2="380.4" stroke="#2a2222" stroke-width="1.3"/>
<text x="393.79" y="380.3" text-anchor="middle" font-size="7.6" font-weight="bold" letter-spacing="0.85" fill="#000" stroke="#000" stroke-width="0.3">***</text>
<line x1="414.29" y1="430.8" x2="414.29" y2="433.8" stroke="#262626" stroke-width="1"/>
<text transform="translate(416.59 437.6) rotate(-90)" text-anchor="end" font-size="9.45">Dendritic cells activated</text>
<path d="M410.61 423.6V424.4M410.61 427.4V427.4M408.71 423.6H412.51M408.71 427.4H412.51" stroke="#555" stroke-width="0.9" fill="none"/>
<rect x="407.14" y="424.4" width="7" height="3" fill="#064b92" stroke="#0a0a0a" stroke-width="0.75"/>
<line x1="407.14" y1="426.6" x2="414.14" y2="426.6" stroke="#0a0a0a" stroke-width="0.9"/>
<circle cx="410.61" cy="398.6" r="0.75" fill="#858585"/>
<circle cx="410.61" cy="409" r="0.75" fill="#858585"/>
<circle cx="410.61" cy="417.6" r="0.75" fill="#858585"/>
<path d="M417.96 384.4V398.8M417.96 423.4V427.4M416.06 384.4H419.86M416.06 427.4H419.86" stroke="#555" stroke-width="0.9" fill="none"/>
<rect x="414.44" y="398.8" width="7" height="24.6" fill="#ea1a1a" stroke="#0a0a0a" stroke-width="0.75"/>
<line x1="414.44" y1="411" x2="421.44" y2="411" stroke="#0a0a0a" stroke-width="1.25"/>
<circle cx="417.96" cy="357" r="0.75" fill="#858585"/>
<line x1="409.85" y1="350.8" x2="418.15" y2="350.8" stroke="#2a2222" stroke-width="1.3"/>
<text x="414.5" y="350.7" text-anchor="middle" font-size="7.6" font-weight="bold" letter-spacing="0.85" fill="#000" stroke="#000" stroke-width="0.3">***</text>
<line x1="435.06" y1="430.8" x2="435.06" y2="433.8" stroke="#262626" stroke-width="1"/>
<text transform="translate(437.36 437.6) rotate(-90)" text-anchor="end" font-size="9.45">Mast cells resting</text>
<path d="M431.38 402.6V412.4M431.38 427.4V427.4M429.49 402.6H433.28M429.49 427.4H433.28" stroke="#555" stroke-width="0.9" fill="none"/>
<rect x="427.91" y="412.4" width="7" height="15" fill="#064b92" stroke="#0a0a0a" stroke-width="0.75"/>
<line x1="427.91" y1="427" x2="434.91" y2="427" stroke="#0a0a0a" stroke-width="1.25"/>
<circle cx="431.38" cy="383.4" r="0.75" fill="#858585"/>
<line x1="435.06" y1="427.4" x2="442.51" y2="427.4" stroke="#161616" stroke-width="1.2"/>
<circle cx="438.74" cy="418.6" r="0.75" fill="#858585"/>
<line x1="430.57" y1="375" x2="438.87" y2="375" stroke="#2a2222" stroke-width="1.3"/>
<text x="435.22" y="374.9" text-anchor="middle" font-size="7.6" font-weight="bold" letter-spacing="0.85" fill="#000" stroke="#000" stroke-width="0.3">***</text>
<line x1="455.83" y1="430.8" x2="455.83" y2="433.8" stroke="#262626" stroke-width="1"/>
<text transform="translate(458.13 437.6) rotate(-90)" text-anchor="end" font-size="9.45">Mast cells activated</text>
<path d="M452.15 415.4V419.2M452.15 427.4V427.4M450.25 415.4H454.05M450.25 427.4H454.05" stroke="#555" stroke-width="0.9" fill="none"/>
<rect x="448.68" y="419.2" width="7" height="8.2" fill="#064b92" stroke="#0a0a0a" stroke-width="0.75"/>
<line x1="448.68" y1="427" x2="455.68" y2="427" stroke="#0a0a0a" stroke-width="1.25"/>
<circle cx="452.15" cy="378.2" r="0.75" fill="#858585"/>
<path d="M459.5 378.6V402M459.5 419.6V427.4M457.61 378.6H461.4M457.61 427.4H461.4" stroke="#555" stroke-width="0.9" fill="none"/>
<rect x="455.98" y="402" width="7" height="17.6" fill="#ea1a1a" stroke="#0a0a0a" stroke-width="0.75"/>
<line x1="455.98" y1="410.6" x2="462.98" y2="410.6" stroke="#0a0a0a" stroke-width="1.25"/>
<line x1="451.28" y1="371.6" x2="459.58" y2="371.6" stroke="#2a2222" stroke-width="1.3"/>
<text x="455.94" y="371.5" text-anchor="middle" font-size="7.6" font-weight="bold" letter-spacing="0.85" fill="#000" stroke="#000" stroke-width="0.3">***</text>
<line x1="476.6" y1="430.8" x2="476.6" y2="433.8" stroke="#262626" stroke-width="1"/>
<text transform="translate(478.9 437.6) rotate(-90)" text-anchor="end" font-size="9.45">Eosinophils</text>
<path d="M472.92 418.4V422.4M472.92 427.4V427.4M471.02 418.4H474.82M471.02 427.4H474.82" stroke="#555" stroke-width="0.9" fill="none"/>
<rect x="469.45" y="422.4" width="7" height="5" fill="#064b92" stroke="#0a0a0a" stroke-width="0.75"/>
<line x1="469.45" y1="427" x2="476.45" y2="427" stroke="#0a0a0a" stroke-width="1.25"/>
<path d="M480.27 423V426.2M480.27 427.6V427.4M478.38 423H482.17M478.38 427.4H482.17" stroke="#555" stroke-width="0.9" fill="none"/>
<rect x="476.75" y="426.2" width="7" height="1.4" fill="#ea1a1a" stroke="#0a0a0a" stroke-width="0.75"/>
<line x1="476.75" y1="427" x2="483.75" y2="427" stroke="#0a0a0a" stroke-width="0.5"/>
<circle cx="480.27" cy="416.4" r="0.75" fill="#858585"/>
<line x1="472" y1="407.8" x2="480.3" y2="407.8" stroke="#2a2222" stroke-width="1.3"/>
<text x="476.3" y="404.7" text-anchor="middle" font-size="9.6">ns</text>
<line x1="497.37" y1="430.8" x2="497.37" y2="433.8" stroke="#262626" stroke-width="1"/>
<text transform="translate(499.67 437.6) rotate(-90)" text-anchor="end" font-size="9.45">Neutrophils</text>
<line x1="489.92" y1="427.4" x2="497.37" y2="427.4" stroke="#161616" stroke-width="1.2"/>
<line x1="497.37" y1="427.4" x2="504.82" y2="427.4" stroke="#161616" stroke-width="1.2"/>
<circle cx="501.05" cy="426" r="0.75" fill="#858585"/>
<line x1="492.71" y1="420.4" x2="501.01" y2="420.4" stroke="#2a2222" stroke-width="1.3"/>
<text x="497.01" y="417.3" text-anchor="middle" font-size="9.6">ns</text>
<text x="212.2" y="296.8" font-size="9.4" font-weight="bold">GSE85195</text>
<line x1="267.05" y1="290.8" x2="267.05" y2="296.4" stroke="#222" stroke-width="0.7"/>
<rect x="264.5" y="291.4" width="5.1" height="4.4" fill="#064b92" stroke="#0a0a0a" stroke-width="0.6"/>
<line x1="264.5" y1="293.6" x2="269.6" y2="293.6" stroke="#0a0a0a" stroke-width="0.9"/>
<text x="273.7" y="296.8" font-size="9.5">OLK</text>
<line x1="299.85" y1="290.8" x2="299.85" y2="296.4" stroke="#222" stroke-width="0.7"/>
<rect x="297.3" y="291.4" width="5.1" height="4.4" fill="#ea1a1a" stroke="#0a0a0a" stroke-width="0.6"/>
<line x1="297.3" y1="293.6" x2="302.4" y2="293.6" stroke="#0a0a0a" stroke-width="0.9"/>
<text x="306.2" y="296.8" font-size="9.5">OSCC</text>
</g>
<g id="panelC">
<path d="M38.9 589.6V711.4H519" stroke="#2e2e2e" stroke-width="1.2" fill="none"/>
<line x1="35.9" y1="708.2" x2="38.9" y2="708.2" stroke="#2e2e2e" stroke-width="0.95"/>
<text x="32.9" y="711.5" text-anchor="end" font-size="9.6">0.0</text>
<line x1="35.9" y1="680.2" x2="38.9" y2="680.2" stroke="#2e2e2e" stroke-width="0.95"/>
<text x="32.9" y="683.5" text-anchor="end" font-size="9.6">0.2</text>
<line x1="35.9" y1="652" x2="38.9" y2="652" stroke="#2e2e2e" stroke-width="0.95"/>
<text x="32.9" y="655.3" text-anchor="end" font-size="9.6">0.4</text>
<line x1="35.9" y1="624" x2="38.9" y2="624" stroke="#2e2e2e" stroke-width="0.95"/>
<text x="32.9" y="627.3" text-anchor="end" font-size="9.6">0.6</text>
<line x1="35.9" y1="595.6" x2="38.9" y2="595.6" stroke="#2e2e2e" stroke-width="0.95"/>
<text x="32.9" y="598.9" text-anchor="end" font-size="9.6">0.8</text>
<text transform="translate(12.3 650.3) rotate(-90)" text-anchor="middle" font-size="9.35">Fraction</text>
<text x="0.6" y="577.6" font-size="13.2" font-weight="bold">C</text>
<line x1="61.2" y1="711.4" x2="61.2" y2="714.4" stroke="#262626" stroke-width="1"/>
<text transform="translate(63.5 718) rotate(-90)" text-anchor="end" font-size="9.45">B cells naive</text>
<path d="M57.53 705.6V707M57.53 708.4V708.4M55.63 705.6H59.43M55.63 708.4H59.43" stroke="#555" stroke-width="0.9" fill="none"/>
<rect x="54.05" y="707" width="7" height="1.4" fill="#064b92" stroke="#0a0a0a" stroke-width="0.75"/>
<line x1="54.05" y1="708" x2="61.05" y2="708" stroke="#0a0a0a" stroke-width="0.5"/>
<circle cx="57.53" cy="698.6" r="0.7" fill="#8a8a8a"/>
<path d="M64.88 702V705.6M64.88 708.4V708.4M62.98 702H66.78M62.98 708.4H66.78" stroke="#555" stroke-width="0.9" fill="none"/>
<rect x="61.35" y="705.6" width="7" height="2.8" fill="#ea1a1a" stroke="#0a0a0a" stroke-width="0.75"/>
<line x1="61.35" y1="707.6" x2="68.35" y2="707.6" stroke="#0a0a0a" stroke-width="0.84"/>
<circle cx="64.88" cy="694.4" r="0.7" fill="#8a8a8a"/>
<circle cx="64.88" cy="695.5" r="0.7" fill="#8a8a8a"/>
<circle cx="64.88" cy="696.6" r="0.7" fill="#8a8a8a"/>
<circle cx="64.88" cy="697.7" r="0.7" fill="#8a8a8a"/>
<circle cx="64.88" cy="698.8" r="0.7" fill="#8a8a8a"/>
<circle cx="64.88" cy="699.9" r="0.7" fill="#8a8a8a"/>
<circle cx="64.88" cy="701" r="0.7" fill="#8a8a8a"/>
<line x1="57.1" y1="685.8" x2="65.4" y2="685.8" stroke="#2a2222" stroke-width="1.3"/>
<text x="61.4" y="682.7" text-anchor="middle" font-size="9.6">ns</text>
<line x1="81.97" y1="711.4" x2="81.97" y2="714.4" stroke="#262626" stroke-width="1"/>
<text transform="translate(84.27 718) rotate(-90)" text-anchor="end" font-size="9.45">B cells memory</text>
<path d="M78.3 691.6V700M78.3 708.4V708.4M76.39 691.6H80.2M76.39 708.4H80.2" stroke="#555" stroke-width="0.9" fill="none"/>
<rect x="74.82" y="700" width="7" height="8.4" fill="#064b92" stroke="#0a0a0a" stroke-width="0.75"/>
<line x1="74.82" y1="708" x2="81.82" y2="708" stroke="#0a0a0a" stroke-width="1.25"/>
<path d="M85.64 695.4V703M85.64 708.4V708.4M83.74 695.4H87.55M83.74 708.4H87.55" stroke="#555" stroke-width="0.9" fill="none"/>
<rect x="82.12" y="703" width="7" height="5.4" fill="#ea1a1a" stroke="#0a0a0a" stroke-width="0.75"/>
<line x1="82.12" y1="708" x2="89.12" y2="708" stroke="#0a0a0a" stroke-width="1.25"/>
<circle cx="85.64" cy="683.6" r="0.7" fill="#8a8a8a"/>
<circle cx="85.64" cy="686" r="0.7" fill="#8a8a8a"/>
<circle cx="85.64" cy="688.4" r="0.7" fill="#8a8a8a"/>
<circle cx="85.64" cy="690.6" r="0.7" fill="#8a8a8a"/>
<circle cx="85.64" cy="692.4" r="0.7" fill="#8a8a8a"/>
<circle cx="85.64" cy="694" r="0.7" fill="#8a8a8a"/>
<line x1="77.87" y1="678.4" x2="86.17" y2="678.4" stroke="#2a2222" stroke-width="1.3"/>
<text x="82.17" y="675.3" text-anchor="middle" font-size="9.6">ns</text>
<line x1="102.74" y1="711.4" x2="102.74" y2="714.4" stroke="#262626" stroke-width="1"/>
<text transform="translate(105.04 718) rotate(-90)" text-anchor="end" font-size="9.45">Plasma cells</text>
<path d="M99.07 623.4V654.2M99.07 694.2V697M97.17 623.4H100.97M97.17 697H100.97" stroke="#555" stroke-width="0.9" fill="none"/>
<rect x="95.59" y="654.2" width="7" height="40" fill="#064b92" stroke="#0a0a0a" stroke-width="0.75"/>
<line x1="95.59" y1="679.4" x2="102.59" y2="679.4" stroke="#0a0a0a" stroke-width="1.25"/>
<path d="M106.42 610V649M106.42 681.4V706.4M104.52 610H108.32M104.52 706.4H108.32" stroke="#555" stroke-width="0.9" fill="none"/>
<rect x="102.89" y="649" width="7" height="32.4" fill="#ea1a1a" stroke="#0a0a0a" stroke-width="0.75"/>
<line x1="102.89" y1="661.6" x2="109.89" y2="661.6" stroke="#0a0a0a" stroke-width="1.25"/>
<circle cx="106.42" cy="592.6" r="0.7" fill="#8a8a8a"/>
<line x1="98.64" y1="588.2" x2="106.94" y2="588.2" stroke="#2a2222" stroke-width="1.3"/>
<text x="102.94" y="585.1" text-anchor="middle" font-size="9.6">ns</text>
<line x1="123.51" y1="711.4" x2="123.51" y2="714.4" stroke="#262626" stroke-width="1"/>
<text transform="translate(125.81 718) rotate(-90)" text-anchor="end" font-size="9.45">T cells CD8</text>
<path d="M119.84 688.4V698.6M119.84 705.4V708M117.94 688.4H121.74M117.94 708H121.74" stroke="#555" stroke-width="0.9" fill="none"/>
<rect x="116.36" y="698.6" width="7" height="6.8" fill="#064b92" stroke="#0a0a0a" stroke-width="0.75"/>
<line x1="116.36" y1="702.2" x2="123.36" y2="702.2" stroke="#0a0a0a" stroke-width="1.25"/>
<circle cx="119.84" cy="654.2" r="0.7" fill="#8a8a8a"/>
<path d="M127.19 691V700M127.19 706.4V708M125.28 691H129.09M125.28 708H129.09" stroke="#555" stroke-width="0.9" fill="none"/>
<rect x="123.66" y="700" width="7" height="6.4" fill="#ea1a1a" stroke="#0a0a0a" stroke-width="0.75"/>
<line x1="123.66" y1="702.6" x2="130.66" y2="702.6" stroke="#0a0a0a" stroke-width="1.25"/>
<circle cx="127.19" cy="664.6" r="0.7" fill="#8a8a8a"/>
<circle cx="127.19" cy="685" r="0.7" fill="#8a8a8a"/>
<circle cx="127.19" cy="686.5" r="0.7" fill="#8a8a8a"/>
<circle cx="127.19" cy="688" r="0.7" fill="#8a8a8a"/>
<circle cx="127.19" cy="689.5" r="0.7" fill="#8a8a8a"/>
<line x1="119.41" y1="648.6" x2="127.71" y2="648.6" stroke="#2a2222" stroke-width="1.3"/>
<text x="123.71" y="645.5" text-anchor="middle" font-size="9.6">ns</text>
<line x1="144.28" y1="711.4" x2="144.28" y2="714.4" stroke="#262626" stroke-width="1"/>
<text transform="translate(146.58 718) rotate(-90)" text-anchor="end" font-size="9.45">T cells CD4 naive</text>
<path d="M140.6 701.4V705.2M140.6 708.4V708.4M138.7 701.4H142.5M138.7 708.4H142.5" stroke="#555" stroke-width="0.9" fill="none"/>
<rect x="137.13" y="705.2" width="7" height="3.2" fill="#064b92" stroke="#0a0a0a" stroke-width="0.75"/>
<line x1="137.13" y1="708" x2="144.13" y2="708" stroke="#0a0a0a" stroke-width="0.96"/>
<circle cx="140.6" cy="689.6" r="0.7" fill="#8a8a8a"/>
<circle cx="140.6" cy="696" r="0.7" fill="#8a8a8a"/>
<path d="M147.96 691.4V701.4M147.96 708V708M146.06 691.4H149.86M146.06 708H149.86" stroke="#555" stroke-width="0.9" fill="none"/>
<rect x="144.43" y="701.4" width="7" height="6.6" fill="#ea1a1a" stroke="#0a0a0a" stroke-width="0.75"/>
<line x1="144.43" y1="707.2" x2="151.43" y2="707.2" stroke="#0a0a0a" stroke-width="1.25"/>
<line x1="140.18" y1="680.2" x2="148.48" y2="680.2" stroke="#2a2222" stroke-width="1.3"/>
<text x="144.48" y="677.1" text-anchor="middle" font-size="9.6">ns</text>
<line x1="165.05" y1="711.4" x2="165.05" y2="714.4" stroke="#262626" stroke-width="1"/>
<text transform="translate(167.35 718) rotate(-90)" text-anchor="end" font-size="9.45">T cells CD4 memory resting</text>
<path d="M161.38 674.6V685M161.38 696.2V708M159.47 674.6H163.28M159.47 708H163.28" stroke="#555" stroke-width="0.9" fill="none"/>
<rect x="157.9" y="685" width="7" height="11.2" fill="#064b92" stroke="#0a0a0a" stroke-width="0.75"/>
<line x1="157.9" y1="691.8" x2="164.9" y2="691.8" stroke="#0a0a0a" stroke-width="1.25"/>
<circle cx="161.38" cy="657" r="0.7" fill="#8a8a8a"/>
<path d="M168.73 673.4V687.4M168.73 696.8V708M166.83 673.4H170.63M166.83 708H170.63" stroke="#555" stroke-width="0.9" fill="none"/>
<rect x="165.2" y="687.4" width="7" height="9.4" fill="#ea1a1a" stroke="#0a0a0a" stroke-width="0.75"/>
<line x1="165.2" y1="692.4" x2="172.2" y2="692.4" stroke="#0a0a0a" stroke-width="1.25"/>
<circle cx="168.73" cy="666.6" r="0.7" fill="#8a8a8a"/>
<circle cx="168.73" cy="671.6" r="0.7" fill="#8a8a8a"/>
<line x1="160.95" y1="649.6" x2="169.25" y2="649.6" stroke="#2a2222" stroke-width="1.3"/>
<text x="165.25" y="646.5" text-anchor="middle" font-size="9.6">ns</text>
<line x1="185.82" y1="711.4" x2="185.82" y2="714.4" stroke="#262626" stroke-width="1"/>
<text transform="translate(188.12 718) rotate(-90)" text-anchor="end" font-size="9.45">T cells CD4 memory activated</text>
<path d="M182.14 698.4V703M182.14 707V708M180.24 698.4H184.04M180.24 708H184.04" stroke="#555" stroke-width="0.9" fill="none"/>
<rect x="178.67" y="703" width="7" height="4" fill="#064b92" stroke="#0a0a0a" stroke-width="0.75"/>
<line x1="178.67" y1="705" x2="185.67" y2="705" stroke="#0a0a0a" stroke-width="1.25"/>
<circle cx="182.14" cy="694" r="0.7" fill="#8a8a8a"/>
<path d="M189.5 691V700.6M189.5 707.4V708M187.59 691H191.4M187.59 708H191.4" stroke="#555" stroke-width="0.9" fill="none"/>
<rect x="185.97" y="700.6" width="7" height="6.8" fill="#ea1a1a" stroke="#0a0a0a" stroke-width="0.75"/>
<line x1="185.97" y1="703.4" x2="192.97" y2="703.4" stroke="#0a0a0a" stroke-width="1.25"/>
<circle cx="189.5" cy="687.6" r="0.7" fill="#8a8a8a"/>
<circle cx="189.5" cy="689.4" r="0.7" fill="#8a8a8a"/>
<line x1="181.72" y1="679.4" x2="190.02" y2="679.4" stroke="#2a2222" stroke-width="1.3"/>
<text x="186.02" y="676.3" text-anchor="middle" font-size="9.6">ns</text>
<line x1="206.59" y1="711.4" x2="206.59" y2="714.4" stroke="#262626" stroke-width="1"/>
<text transform="translate(208.89 718) rotate(-90)" text-anchor="end" font-size="9.45">T cells follicular helper</text>
<path d="M202.91 703.4V705M202.91 708.2V708.2M201.01 703.4H204.81M201.01 708.2H204.81" stroke="#555" stroke-width="0.9" fill="none"/>
<rect x="199.44" y="705" width="7" height="3.2" fill="#064b92" stroke="#0a0a0a" stroke-width="0.75"/>
<line x1="199.44" y1="708" x2="206.44" y2="708" stroke="#0a0a0a" stroke-width="0.96"/>
<circle cx="202.91" cy="696.4" r="0.7" fill="#8a8a8a"/>
<circle cx="202.91" cy="699" r="0.7" fill="#8a8a8a"/>
<path d="M210.26 704.4V706.4M210.26 708.2V708.2M208.36 704.4H212.16M208.36 708.2H212.16" stroke="#555" stroke-width="0.9" fill="none"/>
<rect x="206.74" y="706.4" width="7" height="1.8" fill="#ea1a1a" stroke="#0a0a0a" stroke-width="0.75"/>
<line x1="206.74" y1="707.6" x2="213.74" y2="707.6" stroke="#0a0a0a" stroke-width="0.54"/>
<circle cx="210.26" cy="698" r="0.7" fill="#8a8a8a"/>
<circle cx="210.26" cy="699.2" r="0.7" fill="#8a8a8a"/>
<circle cx="210.26" cy="700.4" r="0.7" fill="#8a8a8a"/>
<circle cx="210.26" cy="701.6" r="0.7" fill="#8a8a8a"/>
<circle cx="210.26" cy="702.8" r="0.7" fill="#8a8a8a"/>
<circle cx="210.26" cy="704" r="0.7" fill="#8a8a8a"/>
<line x1="202.49" y1="690" x2="210.79" y2="690" stroke="#2a2222" stroke-width="1.3"/>
<text x="206.79" y="686.9" text-anchor="middle" font-size="9.6">ns</text>
<line x1="227.36" y1="711.4" x2="227.36" y2="714.4" stroke="#262626" stroke-width="1"/>
<text transform="translate(229.66 718) rotate(-90)" text-anchor="end" font-size="9.45">T cells regulatory Tregs</text>
<path d="M223.69 707V707.4M223.69 708.4V708.4M221.78 707H225.59M221.78 708.4H225.59" stroke="#555" stroke-width="0.9" fill="none"/>
<rect x="220.21" y="707.4" width="7" height="1" fill="#064b92" stroke="#0a0a0a" stroke-width="0.75"/>
<line x1="220.21" y1="708" x2="227.21" y2="708" stroke="#0a0a0a" stroke-width="0.5"/>
<circle cx="223.69" cy="700.4" r="0.7" fill="#8a8a8a"/>
<circle cx="223.69" cy="705" r="0.7" fill="#8a8a8a"/>
<line x1="227.36" y1="708.2" x2="234.81" y2="708.2" stroke="#161616" stroke-width="1.2"/>
<circle cx="231.04" cy="704.4" r="0.7" fill="#8a8a8a"/>
<circle cx="231.04" cy="707" r="0.7" fill="#8a8a8a"/>
<line x1="223.26" y1="694.2" x2="231.56" y2="694.2" stroke="#2a2222" stroke-width="1.3"/>
<text x="227.91" y="694.1" text-anchor="middle" font-size="7.6" font-weight="bold" letter-spacing="0.85" fill="#000" stroke="#000" stroke-width="0.3">***</text>
<line x1="248.13" y1="711.4" x2="248.13" y2="714.4" stroke="#262626" stroke-width="1"/>
<text transform="translate(250.43 718) rotate(-90)" text-anchor="end" font-size="9.45">T cells gamma delta</text>
<line x1="240.68" y1="708.2" x2="248.13" y2="708.2" stroke="#161616" stroke-width="1.2"/>
<circle cx="244.45" cy="695.6" r="0.7" fill="#8a8a8a"/>
<circle cx="244.45" cy="700" r="0.7" fill="#8a8a8a"/>
<line x1="248.13" y1="708.2" x2="255.58" y2="708.2" stroke="#161616" stroke-width="1.2"/>
<circle cx="251.81" cy="695" r="0.7" fill="#8a8a8a"/>
<circle cx="251.81" cy="696.5" r="0.7" fill="#8a8a8a"/>
<circle cx="251.81" cy="698" r="0.7" fill="#8a8a8a"/>
<circle cx="251.81" cy="699.5" r="0.7" fill="#8a8a8a"/>
<circle cx="251.81" cy="701" r="0.7" fill="#8a8a8a"/>
<circle cx="251.81" cy="702.5" r="0.7" fill="#8a8a8a"/>
<circle cx="251.81" cy="704" r="0.7" fill="#8a8a8a"/>
<circle cx="251.81" cy="705.5" r="0.7" fill="#8a8a8a"/>
<circle cx="251.81" cy="707" r="0.7" fill="#8a8a8a"/>
<line x1="244.03" y1="687.8" x2="252.33" y2="687.8" stroke="#2a2222" stroke-width="1.3"/>
<text x="248.33" y="684.7" text-anchor="middle" font-size="9.6">ns</text>
<line x1="268.9" y1="711.4" x2="268.9" y2="714.4" stroke="#262626" stroke-width="1"/>
<text transform="translate(271.2 718) rotate(-90)" text-anchor="end" font-size="9.45">NK cells resting</text>
<path d="M265.22 700.4V702M265.22 708V708M263.32 700.4H267.12M263.32 708H267.12" stroke="#555" stroke-width="0.9" fill="none"/>
<rect x="261.75" y="702" width="7" height="6" fill="#064b92" stroke="#0a0a0a" stroke-width="0.75"/>
<line x1="261.75" y1="706" x2="268.75" y2="706" stroke="#0a0a0a" stroke-width="1.25"/>
<path d="M272.57 697.4V703.2M272.57 708V708M270.68 697.4H274.47M270.68 708H274.47" stroke="#555" stroke-width="0.9" fill="none"/>
<rect x="269.05" y="703.2" width="7" height="4.8" fill="#ea1a1a" stroke="#0a0a0a" stroke-width="0.75"/>
<line x1="269.05" y1="706" x2="276.05" y2="706" stroke="#0a0a0a" stroke-width="1.25"/>
<line x1="264.8" y1="689" x2="273.1" y2="689" stroke="#2a2222" stroke-width="1.3"/>
<text x="269.1" y="685.9" text-anchor="middle" font-size="9.6">ns</text>
<line x1="289.67" y1="711.4" x2="289.67" y2="714.4" stroke="#262626" stroke-width="1"/>
<text transform="translate(291.97 718) rotate(-90)" text-anchor="end" font-size="9.45">NK cells activated</text>
<line x1="282.22" y1="708.2" x2="289.67" y2="708.2" stroke="#161616" stroke-width="1.2"/>
<circle cx="286" cy="701" r="0.7" fill="#8a8a8a"/>
<circle cx="286" cy="704.4" r="0.7" fill="#8a8a8a"/>
<line x1="289.67" y1="708.2" x2="297.12" y2="708.2" stroke="#161616" stroke-width="1.2"/>
<circle cx="293.35" cy="696" r="0.7" fill="#8a8a8a"/>
<circle cx="293.35" cy="697.5" r="0.7" fill="#8a8a8a"/>
<circle cx="293.35" cy="699" r="0.7" fill="#8a8a8a"/>
<circle cx="293.35" cy="700.5" r="0.7" fill="#8a8a8a"/>
<circle cx="293.35" cy="702" r="0.7" fill="#8a8a8a"/>
<circle cx="293.35" cy="703.5" r="0.7" fill="#8a8a8a"/>
<circle cx="293.35" cy="705" r="0.7" fill="#8a8a8a"/>
<circle cx="293.35" cy="706.5" r="0.7" fill="#8a8a8a"/>
<line x1="285.57" y1="691" x2="293.87" y2="691" stroke="#2a2222" stroke-width="1.3"/>
<text x="289.87" y="687.9" text-anchor="middle" font-size="9.6">ns</text>
<line x1="310.44" y1="711.4" x2="310.44" y2="714.4" stroke="#262626" stroke-width="1"/>
<text transform="translate(312.74 718) rotate(-90)" text-anchor="end" font-size="9.45">Monocytes</text>
<path d="M306.76 703.6V705.8M306.76 708V708M304.87 703.6H308.66M304.87 708H308.66" stroke="#555" stroke-width="0.9" fill="none"/>
<rect x="303.29" y="705.8" width="7" height="2.2" fill="#064b92" stroke="#0a0a0a" stroke-width="0.75"/>
<line x1="303.29" y1="707.4" x2="310.29" y2="707.4" stroke="#0a0a0a" stroke-width="0.66"/>
<circle cx="306.76" cy="701" r="0.7" fill="#8a8a8a"/>
<circle cx="306.76" cy="703" r="0.7" fill="#8a8a8a"/>
<path d="M314.12 704.4V706.8M314.12 708.2V708.2M312.22 704.4H316.01M312.22 708.2H316.01" stroke="#555" stroke-width="0.9" fill="none"/>
<rect x="310.59" y="706.8" width="7" height="1.4" fill="#ea1a1a" stroke="#0a0a0a" stroke-width="0.75"/>
<line x1="310.59" y1="707.6" x2="317.59" y2="707.6" stroke="#0a0a0a" stroke-width="0.5"/>
<circle cx="314.12" cy="700" r="0.7" fill="#8a8a8a"/>
<circle cx="314.12" cy="701.5" r="0.7" fill="#8a8a8a"/>
<circle cx="314.12" cy="703" r="0.7" fill="#8a8a8a"/>
<line x1="306.34" y1="693" x2="314.64" y2="693" stroke="#2a2222" stroke-width="1.3"/>
<text x="310.99" y="692.9" text-anchor="middle" font-size="7.6" font-weight="bold" letter-spacing="0.85" fill="#000" stroke="#000" stroke-width="0.3">**</text>
<line x1="331.21" y1="711.4" x2="331.21" y2="714.4" stroke="#262626" stroke-width="1"/>
<text transform="translate(333.51 718) rotate(-90)" text-anchor="end" font-size="9.45">Macrophages M0</text>
<line x1="323.76" y1="708.2" x2="331.21" y2="708.2" stroke="#161616" stroke-width="1.2"/>
<circle cx="327.53" cy="696" r="0.7" fill="#8a8a8a"/>
<circle cx="327.53" cy="699" r="0.7" fill="#8a8a8a"/>
<circle cx="327.53" cy="702" r="0.7" fill="#8a8a8a"/>
<circle cx="327.53" cy="704.4" r="0.7" fill="#8a8a8a"/>
<path d="M334.88 679.2V694.4M334.88 707V708M332.99 679.2H336.78M332.99 708H336.78" stroke="#555" stroke-width="0.9" fill="none"/>
<rect x="331.36" y="694.4" width="7" height="12.6" fill="#ea1a1a" stroke="#0a0a0a" stroke-width="0.75"/>
<line x1="331.36" y1="702.4" x2="338.36" y2="702.4" stroke="#0a0a0a" stroke-width="1.25"/>
<circle cx="334.88" cy="653" r="0.7" fill="#8a8a8a"/>
<circle cx="334.88" cy="655" r="0.7" fill="#8a8a8a"/>
<circle cx="334.88" cy="657" r="0.7" fill="#8a8a8a"/>
<circle cx="334.88" cy="662.4" r="0.7" fill="#8a8a8a"/>
<circle cx="334.88" cy="672" r="0.7" fill="#8a8a8a"/>
<circle cx="334.88" cy="674" r="0.7" fill="#8a8a8a"/>
<circle cx="334.88" cy="676" r="0.7" fill="#8a8a8a"/>
<line x1="327.11" y1="646.4" x2="335.41" y2="646.4" stroke="#2a2222" stroke-width="1.3"/>
<text x="331.76" y="646.3" text-anchor="middle" font-size="7.6" font-weight="bold" letter-spacing="0.85" fill="#000" stroke="#000" stroke-width="0.3">***</text>
<line x1="351.98" y1="711.4" x2="351.98" y2="714.4" stroke="#262626" stroke-width="1"/>
<text transform="translate(354.28 718) rotate(-90)" text-anchor="end" font-size="9.45">Macrophages M1</text>
<path d="M348.3 679.8V693.2M348.3 707.4V708M346.4 679.8H350.2M346.4 708H350.2" stroke="#555" stroke-width="0.9" fill="none"/>
<rect x="344.83" y="693.2" width="7" height="14.2" fill="#064b92" stroke="#0a0a0a" stroke-width="0.75"/>
<line x1="344.83" y1="699" x2="351.83" y2="699" stroke="#0a0a0a" stroke-width="1.25"/>
<path d="M355.65 677.6V694M355.65 705.4V708M353.75 677.6H357.55M353.75 708H357.55" stroke="#555" stroke-width="0.9" fill="none"/>
<rect x="352.13" y="694" width="7" height="11.4" fill="#ea1a1a" stroke="#0a0a0a" stroke-width="0.75"/>
<line x1="352.13" y1="700.4" x2="359.13" y2="700.4" stroke="#0a0a0a" stroke-width="1.25"/>
<line x1="347.88" y1="665.6" x2="356.18" y2="665.6" stroke="#2a2222" stroke-width="1.3"/>
<text x="352.18" y="662.5" text-anchor="middle" font-size="9.6">ns</text>
<line x1="372.75" y1="711.4" x2="372.75" y2="714.4" stroke="#262626" stroke-width="1"/>
<text transform="translate(375.05 718) rotate(-90)" text-anchor="end" font-size="9.45">Macrophages M2</text>
<path d="M369.07 668.2V684.8M369.07 695.8V698.2M367.18 668.2H370.97M367.18 698.2H370.97" stroke="#555" stroke-width="0.9" fill="none"/>
<rect x="365.6" y="684.8" width="7" height="11" fill="#064b92" stroke="#0a0a0a" stroke-width="0.75"/>
<line x1="365.6" y1="690" x2="372.6" y2="690" stroke="#0a0a0a" stroke-width="1.25"/>
<path d="M376.43 677V690M376.43 699V707.4M374.53 677H378.32M374.53 707.4H378.32" stroke="#555" stroke-width="0.9" fill="none"/>
<rect x="372.9" y="690" width="7" height="9" fill="#ea1a1a" stroke="#0a0a0a" stroke-width="0.75"/>
<line x1="372.9" y1="695.4" x2="379.9" y2="695.4" stroke="#0a0a0a" stroke-width="1.25"/>
<circle cx="376.43" cy="657.6" r="0.7" fill="#8a8a8a"/>
<circle cx="376.43" cy="662" r="0.7" fill="#8a8a8a"/>
<circle cx="376.43" cy="666" r="0.7" fill="#8a8a8a"/>
<circle cx="376.43" cy="669" r="0.7" fill="#8a8a8a"/>
<circle cx="376.43" cy="671.6" r="0.7" fill="#8a8a8a"/>
<circle cx="376.43" cy="674" r="0.7" fill="#8a8a8a"/>
<line x1="368.65" y1="654" x2="376.95" y2="654" stroke="#2a2222" stroke-width="1.3"/>
<text x="373.3" y="653.9" text-anchor="middle" font-size="7.6" font-weight="bold" letter-spacing="0.85" fill="#000" stroke="#000" stroke-width="0.3">**</text>
<line x1="393.52" y1="711.4" x2="393.52" y2="714.4" stroke="#262626" stroke-width="1"/>
<text transform="translate(395.82 718) rotate(-90)" text-anchor="end" font-size="9.45">Dendritic cells resting</text>
<path d="M389.84 699V703.4M389.84 706.6V708M387.94 699H391.74M387.94 708H391.74" stroke="#555" stroke-width="0.9" fill="none"/>
<rect x="386.37" y="703.4" width="7" height="3.2" fill="#064b92" stroke="#0a0a0a" stroke-width="0.75"/>
<line x1="386.37" y1="705.2" x2="393.37" y2="705.2" stroke="#0a0a0a" stroke-width="0.96"/>
<circle cx="389.84" cy="682.6" r="0.7" fill="#8a8a8a"/>
<circle cx="389.84" cy="691.6" r="0.7" fill="#8a8a8a"/>
<path d="M397.19 702.4V706.2M397.19 708.2V708.2M395.3 702.4H399.09M395.3 708.2H399.09" stroke="#555" stroke-width="0.9" fill="none"/>
<rect x="393.67" y="706.2" width="7" height="2" fill="#ea1a1a" stroke="#0a0a0a" stroke-width="0.75"/>
<line x1="393.67" y1="707.2" x2="400.67" y2="707.2" stroke="#0a0a0a" stroke-width="0.6"/>
<circle cx="397.19" cy="692" r="0.7" fill="#8a8a8a"/>
<circle cx="397.19" cy="695" r="0.7" fill="#8a8a8a"/>
<circle cx="397.19" cy="697" r="0.7" fill="#8a8a8a"/>
<circle cx="397.19" cy="699" r="0.7" fill="#8a8a8a"/>
<circle cx="397.19" cy="701" r="0.7" fill="#8a8a8a"/>
<line x1="389.42" y1="675" x2="397.72" y2="675" stroke="#2a2222" stroke-width="1.3"/>
<text x="394.07" y="674.9" text-anchor="middle" font-size="7.6" font-weight="bold" letter-spacing="0.85" fill="#000" stroke="#000" stroke-width="0.3">**</text>
<line x1="414.29" y1="711.4" x2="414.29" y2="714.4" stroke="#262626" stroke-width="1"/>
<text transform="translate(416.59 718) rotate(-90)" text-anchor="end" font-size="9.45">Dendritic cells activated</text>
<path d="M410.61 704.4V706.6M410.61 708.2V708.2M408.71 704.4H412.51M408.71 708.2H412.51" stroke="#555" stroke-width="0.9" fill="none"/>
<rect x="407.14" y="706.6" width="7" height="1.6" fill="#064b92" stroke="#0a0a0a" stroke-width="0.75"/>
<line x1="407.14" y1="707.6" x2="414.14" y2="707.6" stroke="#0a0a0a" stroke-width="0.5"/>
<circle cx="410.61" cy="695" r="0.7" fill="#8a8a8a"/>
<circle cx="410.61" cy="698" r="0.7" fill="#8a8a8a"/>
<circle cx="410.61" cy="701" r="0.7" fill="#8a8a8a"/>
<path d="M417.96 694.4V702.4M417.96 708.2V708.2M416.06 694.4H419.86M416.06 708.2H419.86" stroke="#555" stroke-width="0.9" fill="none"/>
<rect x="414.44" y="702.4" width="7" height="5.8" fill="#ea1a1a" stroke="#0a0a0a" stroke-width="0.75"/>
<line x1="414.44" y1="706" x2="421.44" y2="706" stroke="#0a0a0a" stroke-width="1.25"/>
<circle cx="417.96" cy="667.6" r="0.7" fill="#8a8a8a"/>
<circle cx="417.96" cy="674" r="0.7" fill="#8a8a8a"/>
<circle cx="417.96" cy="679" r="0.7" fill="#8a8a8a"/>
<circle cx="417.96" cy="682" r="0.7" fill="#8a8a8a"/>
<circle cx="417.96" cy="685" r="0.7" fill="#8a8a8a"/>
<circle cx="417.96" cy="687" r="0.7" fill="#8a8a8a"/>
<circle cx="417.96" cy="689" r="0.7" fill="#8a8a8a"/>
<circle cx="417.96" cy="691" r="0.7" fill="#8a8a8a"/>
<circle cx="417.96" cy="692.4" r="0.7" fill="#8a8a8a"/>
<line x1="410.19" y1="660.4" x2="418.49" y2="660.4" stroke="#2a2222" stroke-width="1.3"/>
<text x="414.49" y="657.3" text-anchor="middle" font-size="9.6">ns</text>
<line x1="435.06" y1="711.4" x2="435.06" y2="714.4" stroke="#262626" stroke-width="1"/>
<text transform="translate(437.36 718) rotate(-90)" text-anchor="end" font-size="9.45">Mast cells resting</text>
<path d="M431.38 690V693.2M431.38 704.8V708M429.49 690H433.28M429.49 708H433.28" stroke="#555" stroke-width="0.9" fill="none"/>
<rect x="427.91" y="693.2" width="7" height="11.6" fill="#064b92" stroke="#0a0a0a" stroke-width="0.75"/>
<line x1="427.91" y1="696.6" x2="434.91" y2="696.6" stroke="#0a0a0a" stroke-width="1.25"/>
<circle cx="431.38" cy="665.6" r="0.7" fill="#8a8a8a"/>
<path d="M438.74 694.4V703M438.74 708V708M436.84 694.4H440.63M436.84 708H440.63" stroke="#555" stroke-width="0.9" fill="none"/>
<rect x="435.21" y="703" width="7" height="5" fill="#ea1a1a" stroke="#0a0a0a" stroke-width="0.75"/>
<line x1="435.21" y1="706.6" x2="442.21" y2="706.6" stroke="#0a0a0a" stroke-width="1.25"/>
<circle cx="438.74" cy="678" r="0.7" fill="#8a8a8a"/>
<circle cx="438.74" cy="689.6" r="0.7" fill="#8a8a8a"/>
<circle cx="438.74" cy="691" r="0.7" fill="#8a8a8a"/>
<circle cx="438.74" cy="692.4" r="0.7" fill="#8a8a8a"/>
<line x1="430.96" y1="658" x2="439.26" y2="658" stroke="#2a2222" stroke-width="1.3"/>
<text x="435.61" y="657.9" text-anchor="middle" font-size="7.6" font-weight="bold" letter-spacing="0.85" fill="#000" stroke="#000" stroke-width="0.3">***</text>
<line x1="455.83" y1="711.4" x2="455.83" y2="714.4" stroke="#262626" stroke-width="1"/>
<text transform="translate(458.13 718) rotate(-90)" text-anchor="end" font-size="9.45">Mast cells activated</text>
<path d="M452.15 697.6V703M452.15 708.2V708.2M450.25 697.6H454.05M450.25 708.2H454.05" stroke="#555" stroke-width="0.9" fill="none"/>
<rect x="448.68" y="703" width="7" height="5.2" fill="#064b92" stroke="#0a0a0a" stroke-width="0.75"/>
<line x1="448.68" y1="707.8" x2="455.68" y2="707.8" stroke="#0a0a0a" stroke-width="1.25"/>
<path d="M459.5 674.6V694.4M459.5 708.2V708.2M457.61 674.6H461.4M457.61 708.2H461.4" stroke="#555" stroke-width="0.9" fill="none"/>
<rect x="455.98" y="694.4" width="7" height="13.8" fill="#ea1a1a" stroke="#0a0a0a" stroke-width="0.75"/>
<line x1="455.98" y1="705.4" x2="462.98" y2="705.4" stroke="#0a0a0a" stroke-width="1.25"/>
<circle cx="459.5" cy="668.4" r="0.7" fill="#8a8a8a"/>
<circle cx="459.5" cy="670.6" r="0.7" fill="#8a8a8a"/>
<circle cx="459.5" cy="672.6" r="0.7" fill="#8a8a8a"/>
<line x1="451.73" y1="658" x2="460.03" y2="658" stroke="#2a2222" stroke-width="1.3"/>
<text x="456.38" y="657.9" text-anchor="middle" font-size="7.6" font-weight="bold" letter-spacing="0.85" fill="#000" stroke="#000" stroke-width="0.3">*</text>
<line x1="476.6" y1="711.4" x2="476.6" y2="714.4" stroke="#262626" stroke-width="1"/>
<text transform="translate(478.9 718) rotate(-90)" text-anchor="end" font-size="9.45">Eosinophils</text>
<line x1="469.15" y1="708.2" x2="476.6" y2="708.2" stroke="#161616" stroke-width="1.2"/>
<line x1="476.6" y1="708.2" x2="484.05" y2="708.2" stroke="#161616" stroke-width="1.2"/>
<circle cx="480.27" cy="700.4" r="0.7" fill="#8a8a8a"/>
<circle cx="480.27" cy="703" r="0.7" fill="#8a8a8a"/>
<circle cx="480.27" cy="705" r="0.7" fill="#8a8a8a"/>
<circle cx="480.27" cy="706.4" r="0.7" fill="#8a8a8a"/>
<line x1="472.5" y1="693" x2="480.8" y2="693" stroke="#2a2222" stroke-width="1.3"/>
<text x="477.15" y="692.9" text-anchor="middle" font-size="7.6" font-weight="bold" letter-spacing="0.85" fill="#000" stroke="#000" stroke-width="0.3">*</text>
<line x1="497.37" y1="711.4" x2="497.37" y2="714.4" stroke="#262626" stroke-width="1"/>
<text transform="translate(499.67 718) rotate(-90)" text-anchor="end" font-size="9.45">Neutrophils</text>
<path d="M493.69 704.4V706.4M493.69 708.2V708.2M491.8 704.4H495.59M491.8 708.2H495.59" stroke="#555" stroke-width="0.9" fill="none"/>
<rect x="490.22" y="706.4" width="7" height="1.8" fill="#064b92" stroke="#0a0a0a" stroke-width="0.75"/>
<line x1="490.22" y1="707.6" x2="497.22" y2="707.6" stroke="#0a0a0a" stroke-width="0.54"/>
<circle cx="493.69" cy="698" r="0.7" fill="#8a8a8a"/>
<path d="M501.05 697.4V703.4M501.05 707.6V708.2M499.15 697.4H502.94M499.15 708.2H502.94" stroke="#555" stroke-width="0.9" fill="none"/>
<rect x="497.52" y="703.4" width="7" height="4.2" fill="#ea1a1a" stroke="#0a0a0a" stroke-width="0.75"/>
<line x1="497.52" y1="705.8" x2="504.52" y2="705.8" stroke="#0a0a0a" stroke-width="1.25"/>
<circle cx="501.05" cy="676.6" r="0.7" fill="#8a8a8a"/>
<circle cx="501.05" cy="679" r="0.7" fill="#8a8a8a"/>
<circle cx="501.05" cy="682" r="0.7" fill="#8a8a8a"/>
<circle cx="501.05" cy="686" r="0.7" fill="#8a8a8a"/>
<circle cx="501.05" cy="689.6" r="0.7" fill="#8a8a8a"/>
<circle cx="501.05" cy="691.6" r="0.7" fill="#8a8a8a"/>
<circle cx="501.05" cy="693.6" r="0.7" fill="#8a8a8a"/>
<circle cx="501.05" cy="695.6" r="0.7" fill="#8a8a8a"/>
<line x1="493.27" y1="668.6" x2="501.57" y2="668.6" stroke="#2a2222" stroke-width="1.3"/>
<text x="497.92" y="668.5" text-anchor="middle" font-size="7.6" font-weight="bold" letter-spacing="0.85" fill="#000" stroke="#000" stroke-width="0.3">**</text>
<text x="212.2" y="576.9" font-size="9.4" font-weight="bold">GSE30784</text>
<line x1="267.05" y1="571" x2="267.05" y2="576.6" stroke="#222" stroke-width="0.7"/>
<rect x="264.5" y="571.6" width="5.1" height="4.4" fill="#064b92" stroke="#0a0a0a" stroke-width="0.6"/>
<line x1="264.5" y1="573.8" x2="269.6" y2="573.8" stroke="#0a0a0a" stroke-width="0.9"/>
<text x="273.7" y="576.9" font-size="9.5">OLK</text>
<line x1="299.85" y1="571" x2="299.85" y2="576.6" stroke="#222" stroke-width="0.7"/>
<rect x="297.3" y="571.6" width="5.1" height="4.4" fill="#ea1a1a" stroke="#0a0a0a" stroke-width="0.6"/>
<line x1="297.3" y1="573.8" x2="302.4" y2="573.8" stroke="#0a0a0a" stroke-width="0.9"/>
<text x="306.2" y="576.9" font-size="9.5">OSCC</text>
</g>
</svg></body></html>
